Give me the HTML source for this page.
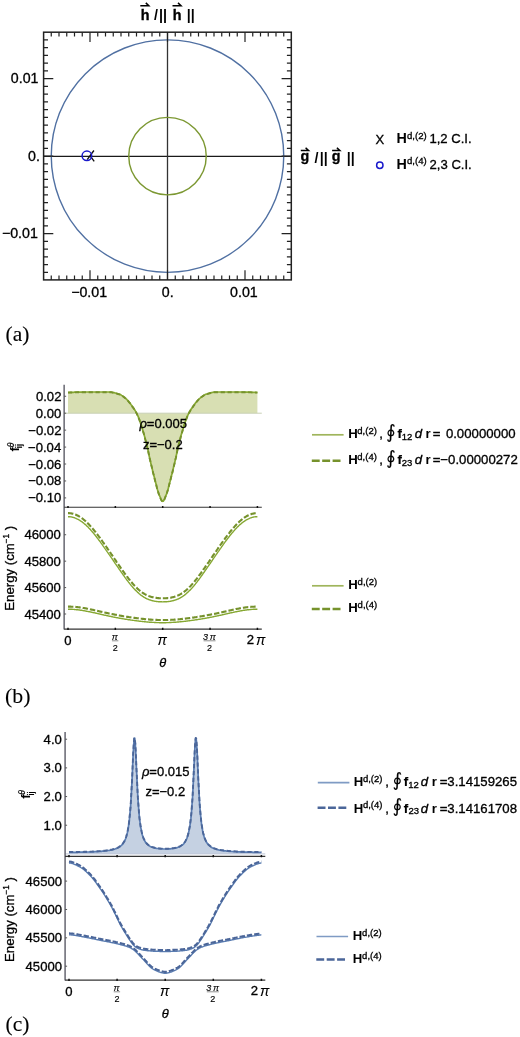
<!DOCTYPE html>
<html><head><meta charset="utf-8"><title>Figure</title>
<style>html,body{margin:0;padding:0;background:#fff;overflow:hidden;}svg{display:block;}</style>
</head><body>
<svg width="520" height="1037" viewBox="0 0 520 1037">
<line x1="43.60" y1="156.25" x2="291.30" y2="156.25" stroke="#1a1a1a" stroke-width="1.25"/>
<line x1="167.50" y1="32.20" x2="167.50" y2="279.90" stroke="#333" stroke-width="1.3"/>
<circle cx="167.50" cy="156.10" r="116.25" fill="none" stroke="#5070a2" stroke-width="1.4"/>
<circle cx="167.50" cy="156.10" r="38.75" fill="none" stroke="#7c9832" stroke-width="1.45"/>
<path d="M51.25 279.90v-4.40M51.25 32.20v4.40M43.60 272.35h4.40M291.30 272.35h-4.40M59.00 279.90v-4.40M59.00 32.20v4.40M43.60 264.60h4.40M291.30 264.60h-4.40M66.75 279.90v-4.40M66.75 32.20v4.40M43.60 256.85h4.40M291.30 256.85h-4.40M74.50 279.90v-4.40M74.50 32.20v4.40M43.60 249.10h4.40M291.30 249.10h-4.40M82.25 279.90v-4.40M82.25 32.20v4.40M43.60 241.35h4.40M291.30 241.35h-4.40M90.00 279.90v-9.70M90.00 32.20v9.70M43.60 233.60h9.70M291.30 233.60h-9.70M97.75 279.90v-4.40M97.75 32.20v4.40M43.60 225.85h4.40M291.30 225.85h-4.40M105.50 279.90v-4.40M105.50 32.20v4.40M43.60 218.10h4.40M291.30 218.10h-4.40M113.25 279.90v-4.40M113.25 32.20v4.40M43.60 210.35h4.40M291.30 210.35h-4.40M121.00 279.90v-4.40M121.00 32.20v4.40M43.60 202.60h4.40M291.30 202.60h-4.40M128.75 279.90v-4.40M128.75 32.20v4.40M43.60 194.85h4.40M291.30 194.85h-4.40M136.50 279.90v-4.40M136.50 32.20v4.40M43.60 187.10h4.40M291.30 187.10h-4.40M144.25 279.90v-4.40M144.25 32.20v4.40M43.60 179.35h4.40M291.30 179.35h-4.40M152.00 279.90v-4.40M152.00 32.20v4.40M43.60 171.60h4.40M291.30 171.60h-4.40M159.75 279.90v-4.40M159.75 32.20v4.40M43.60 163.85h4.40M291.30 163.85h-4.40M167.50 279.90v-9.70M167.50 32.20v9.70M43.60 156.10h9.70M291.30 156.10h-9.70M175.25 279.90v-4.40M175.25 32.20v4.40M43.60 148.35h4.40M291.30 148.35h-4.40M183.00 279.90v-4.40M183.00 32.20v4.40M43.60 140.60h4.40M291.30 140.60h-4.40M190.75 279.90v-4.40M190.75 32.20v4.40M43.60 132.85h4.40M291.30 132.85h-4.40M198.50 279.90v-4.40M198.50 32.20v4.40M43.60 125.10h4.40M291.30 125.10h-4.40M206.25 279.90v-4.40M206.25 32.20v4.40M43.60 117.35h4.40M291.30 117.35h-4.40M214.00 279.90v-4.40M214.00 32.20v4.40M43.60 109.60h4.40M291.30 109.60h-4.40M221.75 279.90v-4.40M221.75 32.20v4.40M43.60 101.85h4.40M291.30 101.85h-4.40M229.50 279.90v-4.40M229.50 32.20v4.40M43.60 94.10h4.40M291.30 94.10h-4.40M237.25 279.90v-4.40M237.25 32.20v4.40M43.60 86.35h4.40M291.30 86.35h-4.40M245.00 279.90v-9.70M245.00 32.20v9.70M43.60 78.60h9.70M291.30 78.60h-9.70M252.75 279.90v-4.40M252.75 32.20v4.40M43.60 70.85h4.40M291.30 70.85h-4.40M260.50 279.90v-4.40M260.50 32.20v4.40M43.60 63.10h4.40M291.30 63.10h-4.40M268.25 279.90v-4.40M268.25 32.20v4.40M43.60 55.35h4.40M291.30 55.35h-4.40M276.00 279.90v-4.40M276.00 32.20v4.40M43.60 47.60h4.40M291.30 47.60h-4.40M283.75 279.90v-4.40M283.75 32.20v4.40M43.60 39.85h4.40M291.30 39.85h-4.40" stroke="#222" stroke-width="1.2" fill="none"/>
<rect x="43.60" y="32.20" width="247.70" height="247.70" fill="none" stroke="#222" stroke-width="1.5"/>
<path d="M87.2 159.7L93.9 150.5M89.9 155.5L94.2 161.3" stroke="#111" stroke-width="1.35" fill="none"/>
<circle cx="86.9" cy="155.8" r="4.8" fill="none" stroke="#1a1acc" stroke-width="1.5"/>
<text x="10.80" y="83.10" font-size="14.20" font-family="'Liberation Sans', Arial, sans-serif" fill="#000" stroke="#000" stroke-width="0.32">0.01</text>
<text x="28.10" y="161.20" font-size="14.20" font-family="'Liberation Sans', Arial, sans-serif" fill="#000" stroke="#000" stroke-width="0.32">0.</text>
<text x="1.93" y="238.40" font-size="14.20" font-family="'Liberation Sans', Arial, sans-serif" fill="#000" stroke="#000" stroke-width="0.32">−0.01</text>
<text x="71.18" y="297.00" font-size="14.20" font-family="'Liberation Sans', Arial, sans-serif" fill="#000" stroke="#000" stroke-width="0.32">−0.01</text>
<text x="161.80" y="297.00" font-size="14.20" font-family="'Liberation Sans', Arial, sans-serif" fill="#000" stroke="#000" stroke-width="0.32">0.</text>
<text x="230.10" y="297.00" font-size="14.20" font-family="'Liberation Sans', Arial, sans-serif" fill="#000" stroke="#000" stroke-width="0.32">0.01</text>
<text x="140.83" y="20.00" font-size="14.30" font-family="'Liberation Sans', Arial, sans-serif" fill="#000" font-weight="bold" stroke="#000" stroke-width="0.35">h</text>
<text x="154.01" y="20.00" font-size="14.30" font-family="'Liberation Sans', Arial, sans-serif" fill="#000" font-weight="bold">/</text>
<text x="159.05" y="20.00" font-size="14.30" font-family="'Liberation Sans', Arial, sans-serif" fill="#000" font-weight="bold">|</text>
<text x="163.10" y="20.00" font-size="14.30" font-family="'Liberation Sans', Arial, sans-serif" fill="#000" font-weight="bold">|</text>
<text x="172.83" y="20.00" font-size="14.30" font-family="'Liberation Sans', Arial, sans-serif" fill="#000" font-weight="bold" stroke="#000" stroke-width="0.35">h</text>
<text x="186.75" y="20.00" font-size="14.30" font-family="'Liberation Sans', Arial, sans-serif" fill="#000" font-weight="bold">|</text>
<text x="190.75" y="20.00" font-size="14.30" font-family="'Liberation Sans', Arial, sans-serif" fill="#000" font-weight="bold">|</text>
<path d="M140.30 5.80H148.80 L145.80 2.90" stroke="#000" stroke-width="1.5" fill="none" stroke-linejoin="miter" stroke-linecap="butt"/>
<path d="M172.50 5.80H181.00 L178.00 2.90" stroke="#000" stroke-width="1.5" fill="none" stroke-linejoin="miter" stroke-linecap="butt"/>
<text x="300.47" y="161.00" font-size="14.30" font-family="'Liberation Sans', Arial, sans-serif" fill="#000" font-weight="bold" stroke="#000" stroke-width="0.30">g</text>
<text x="314.51" y="162.60" font-size="14.30" font-family="'Liberation Sans', Arial, sans-serif" fill="#000" font-weight="bold">/</text>
<text x="319.65" y="162.80" font-size="14.30" font-family="'Liberation Sans', Arial, sans-serif" fill="#000" font-weight="bold">|</text>
<text x="323.75" y="162.80" font-size="14.30" font-family="'Liberation Sans', Arial, sans-serif" fill="#000" font-weight="bold">|</text>
<text x="331.82" y="161.00" font-size="14.30" font-family="'Liberation Sans', Arial, sans-serif" fill="#000" font-weight="bold" stroke="#000" stroke-width="0.30">g</text>
<text x="346.75" y="162.80" font-size="14.30" font-family="'Liberation Sans', Arial, sans-serif" fill="#000" font-weight="bold">|</text>
<text x="350.75" y="162.80" font-size="14.30" font-family="'Liberation Sans', Arial, sans-serif" fill="#000" font-weight="bold">|</text>
<path d="M300.80 150.60H308.60 L305.60 147.70" stroke="#000" stroke-width="1.5" fill="none" stroke-linejoin="miter" stroke-linecap="butt"/>
<path d="M332.10 150.60H339.90 L336.90 147.70" stroke="#000" stroke-width="1.5" fill="none" stroke-linejoin="miter" stroke-linecap="butt"/>
<text x="375.51" y="143.60" font-size="13.00" font-family="'Liberation Sans', Arial, sans-serif" fill="#000" stroke="#000" stroke-width="0.32">X</text>
<circle cx="379.8" cy="165.3" r="3.2" fill="none" stroke="#1a1acc" stroke-width="1.5"/>
<text x="396.44" y="143.00" font-size="14.30" font-family="'Liberation Sans', Arial, sans-serif" fill="#000" font-weight="bold">H</text>
<text x="407.00" y="138.70" font-size="9.60" font-family="'Liberation Sans', Arial, sans-serif" fill="#000" stroke="#000" stroke-width="0.32">d,(2)</text>
<text x="429.38" y="143.00" font-size="13.10" font-family="'Liberation Sans', Arial, sans-serif" fill="#000" stroke="#000" stroke-width="0.32">1,2 C.I.</text>
<text x="396.44" y="168.50" font-size="14.30" font-family="'Liberation Sans', Arial, sans-serif" fill="#000" font-weight="bold">H</text>
<text x="407.00" y="164.20" font-size="9.60" font-family="'Liberation Sans', Arial, sans-serif" fill="#000" stroke="#000" stroke-width="0.32">d,(4)</text>
<text x="429.55" y="168.50" font-size="13.10" font-family="'Liberation Sans', Arial, sans-serif" fill="#000" stroke="#000" stroke-width="0.32">2,3 C.I.</text>
<text x="5.47" y="341.20" font-size="21.50" font-family="'Liberation Serif', 'Times New Roman', serif" fill="#000" stroke="#000" stroke-width="0.10">(a)</text>
<text x="5.09" y="703.30" font-size="21.80" font-family="'Liberation Serif', 'Times New Roman', serif" fill="#000" stroke="#000" stroke-width="0.10">(b)</text>
<text x="5.47" y="1031.00" font-size="21.50" font-family="'Liberation Serif', 'Times New Roman', serif" fill="#000" stroke="#000" stroke-width="0.10">(c)</text>
<path d="M68.0 392.4L68.5 392.4L69.1 392.4L69.6 392.4L70.1 392.4L70.6 392.4L71.2 392.3L71.7 392.3L72.2 392.3L72.7 392.3L73.3 392.3L73.8 392.3L74.3 392.2L74.8 392.2L75.4 392.2L75.9 392.2L76.4 392.2L76.9 392.2L77.5 392.2L78.0 392.1L78.5 392.1L79.0 392.1L79.6 392.1L80.1 392.1L80.6 392.1L81.2 392.1L81.7 392.1L82.2 392.1L82.7 392.1L83.3 392.0L83.8 392.0L84.3 392.0L84.8 392.0L85.4 392.0L85.9 392.0L86.4 392.0L86.9 392.0L87.5 392.0L88.0 392.0L88.5 392.0L89.0 392.0L89.6 392.0L90.1 392.0L90.6 392.0L91.1 392.0L91.7 392.0L92.2 392.0L92.7 392.0L93.3 392.0L93.8 392.0L94.3 392.0L94.8 392.0L95.4 392.0L95.9 392.0L96.4 392.0L96.9 392.0L97.5 392.0L98.0 392.0L98.5 392.0L99.0 392.0L99.6 392.0L100.1 392.0L100.6 392.0L101.1 392.0L101.7 392.0L102.2 392.0L102.7 392.0L103.2 392.0L103.8 392.0L104.3 392.0L104.8 392.0L105.4 392.0L105.9 392.0L106.4 392.0L106.9 392.0L107.5 392.0L108.0 392.0L108.5 392.0L109.0 392.0L109.6 392.0L110.1 392.1L110.6 392.1L111.1 392.2L111.7 392.2L112.2 392.3L112.7 392.4L113.2 392.5L113.8 392.6L114.3 392.7L114.8 392.9L115.3 393.0L115.9 393.1L116.4 393.3L116.9 393.5L117.5 393.6L118.0 393.8L118.5 394.0L119.0 394.1L119.6 394.3L120.1 394.5L120.6 394.8L121.1 395.0L121.7 395.4L122.2 395.7L122.7 396.0L123.2 396.4L123.8 396.8L124.3 397.2L124.8 397.7L125.3 398.1L125.9 398.5L126.4 399.0L126.9 399.6L127.5 400.1L128.0 400.7L128.5 401.3L129.0 402.0L129.6 402.6L130.1 403.3L130.6 404.0L131.1 404.7L131.7 405.5L132.2 406.2L132.7 406.9L133.2 407.7L133.8 408.4L134.3 409.2L134.8 410.0L135.3 410.9L135.9 411.8L136.4 412.8L136.9 413.8L137.4 414.9L138.0 416.1L138.5 417.4L139.0 418.8L139.6 420.2L140.1 421.8L140.6 423.4L141.1 425.0L141.7 426.7L142.2 428.3L142.7 430.0L143.2 431.7L143.8 433.5L144.3 435.4L144.8 437.3L145.3 439.3L145.9 441.3L146.4 443.4L146.9 445.5L147.4 447.8L148.0 450.2L148.5 452.6L149.0 455.0L149.5 457.5L150.1 459.9L150.6 462.2L151.1 464.4L151.7 466.6L152.2 468.8L152.7 471.0L153.2 473.1L153.8 475.2L154.3 477.3L154.8 479.3L155.3 481.3L155.9 483.4L156.4 485.5L156.9 487.5L157.4 489.5L158.0 491.3L158.5 492.9L159.0 494.4L159.5 495.7L160.1 497.0L160.6 498.3L161.1 499.5L161.6 500.4L162.2 501.1L162.7 501.3L163.2 501.1L163.8 500.4L164.3 499.5L164.8 498.3L165.3 497.0L165.9 495.7L166.4 494.4L166.9 492.9L167.4 491.3L168.0 489.5L168.5 487.5L169.0 485.5L169.5 483.4L170.1 481.3L170.6 479.3L171.1 477.3L171.6 475.2L172.2 473.1L172.7 471.0L173.2 468.8L173.7 466.6L174.3 464.4L174.8 462.2L175.3 459.9L175.9 457.5L176.4 455.0L176.9 452.6L177.4 450.2L178.0 447.8L178.5 445.5L179.0 443.4L179.5 441.3L180.1 439.3L180.6 437.3L181.1 435.4L181.6 433.5L182.2 431.7L182.7 430.0L183.2 428.3L183.7 426.7L184.3 425.0L184.8 423.4L185.3 421.8L185.8 420.2L186.4 418.8L186.9 417.4L187.4 416.1L188.0 414.9L188.5 413.8L189.0 412.8L189.5 411.8L190.1 410.9L190.6 410.0L191.1 409.2L191.6 408.4L192.2 407.7L192.7 406.9L193.2 406.2L193.7 405.5L194.3 404.7L194.8 404.0L195.3 403.3L195.8 402.6L196.4 402.0L196.9 401.3L197.4 400.7L197.9 400.1L198.5 399.6L199.0 399.0L199.5 398.5L200.1 398.1L200.6 397.7L201.1 397.2L201.6 396.8L202.2 396.4L202.7 396.0L203.2 395.7L203.7 395.4L204.3 395.0L204.8 394.8L205.3 394.5L205.8 394.3L206.4 394.1L206.9 394.0L207.4 393.8L207.9 393.6L208.5 393.5L209.0 393.3L209.5 393.1L210.1 393.0L210.6 392.9L211.1 392.7L211.6 392.6L212.2 392.5L212.7 392.4L213.2 392.3L213.7 392.2L214.3 392.2L214.8 392.1L215.3 392.1L215.8 392.0L216.4 392.0L216.9 392.0L217.4 392.0L217.9 392.0L218.5 392.0L219.0 392.0L219.5 392.0L220.0 392.0L220.6 392.0L221.1 392.0L221.6 392.0L222.2 392.0L222.7 392.0L223.2 392.0L223.7 392.0L224.3 392.0L224.8 392.0L225.3 392.0L225.8 392.0L226.4 392.0L226.9 392.0L227.4 392.0L227.9 392.0L228.5 392.0L229.0 392.0L229.5 392.0L230.0 392.0L230.6 392.0L231.1 392.0L231.6 392.0L232.1 392.0L232.7 392.0L233.2 392.0L233.7 392.0L234.3 392.0L234.8 392.0L235.3 392.0L235.8 392.0L236.4 392.0L236.9 392.0L237.4 392.0L237.9 392.0L238.5 392.0L239.0 392.0L239.5 392.0L240.0 392.0L240.6 392.0L241.1 392.0L241.6 392.0L242.1 392.0L242.7 392.1L243.2 392.1L243.7 392.1L244.2 392.1L244.8 392.1L245.3 392.1L245.8 392.1L246.4 392.1L246.9 392.1L247.4 392.1L247.9 392.2L248.5 392.2L249.0 392.2L249.5 392.2L250.0 392.2L250.6 392.2L251.1 392.2L251.6 392.3L252.1 392.3L252.7 392.3L253.2 392.3L253.7 392.3L254.2 392.3L254.8 392.4L255.3 392.4L255.8 392.4L256.3 392.4L256.9 392.4L257.4 392.4L257.4 413.2L68.0 413.2Z" fill="#d8dfb3" stroke="none"/>
<line x1="64.15" y1="413.20" x2="261.80" y2="413.20" stroke="#c9d0b6" stroke-width="1"/>
<path d="M68.0 392.4L68.5 392.4L69.1 392.4L69.6 392.4L70.1 392.4L70.6 392.4L71.2 392.3L71.7 392.3L72.2 392.3L72.7 392.3L73.3 392.3L73.8 392.3L74.3 392.2L74.8 392.2L75.4 392.2L75.9 392.2L76.4 392.2L76.9 392.2L77.5 392.2L78.0 392.1L78.5 392.1L79.0 392.1L79.6 392.1L80.1 392.1L80.6 392.1L81.2 392.1L81.7 392.1L82.2 392.1L82.7 392.1L83.3 392.0L83.8 392.0L84.3 392.0L84.8 392.0L85.4 392.0L85.9 392.0L86.4 392.0L86.9 392.0L87.5 392.0L88.0 392.0L88.5 392.0L89.0 392.0L89.6 392.0L90.1 392.0L90.6 392.0L91.1 392.0L91.7 392.0L92.2 392.0L92.7 392.0L93.3 392.0L93.8 392.0L94.3 392.0L94.8 392.0L95.4 392.0L95.9 392.0L96.4 392.0L96.9 392.0L97.5 392.0L98.0 392.0L98.5 392.0L99.0 392.0L99.6 392.0L100.1 392.0L100.6 392.0L101.1 392.0L101.7 392.0L102.2 392.0L102.7 392.0L103.2 392.0L103.8 392.0L104.3 392.0L104.8 392.0L105.4 392.0L105.9 392.0L106.4 392.0L106.9 392.0L107.5 392.0L108.0 392.0L108.5 392.0L109.0 392.0L109.6 392.0L110.1 392.1L110.6 392.1L111.1 392.2L111.7 392.2L112.2 392.3L112.7 392.4L113.2 392.5L113.8 392.6L114.3 392.7L114.8 392.9L115.3 393.0L115.9 393.1L116.4 393.3L116.9 393.5L117.5 393.6L118.0 393.8L118.5 394.0L119.0 394.1L119.6 394.3L120.1 394.5L120.6 394.8L121.1 395.0L121.7 395.4L122.2 395.7L122.7 396.0L123.2 396.4L123.8 396.8L124.3 397.2L124.8 397.7L125.3 398.1L125.9 398.5L126.4 399.0L126.9 399.6L127.5 400.1L128.0 400.7L128.5 401.3L129.0 402.0L129.6 402.6L130.1 403.3L130.6 404.0L131.1 404.7L131.7 405.5L132.2 406.2L132.7 406.9L133.2 407.7L133.8 408.4L134.3 409.2L134.8 410.0L135.3 410.9L135.9 411.8L136.4 412.8L136.9 413.8L137.4 414.9L138.0 416.1L138.5 417.4L139.0 418.8L139.6 420.2L140.1 421.8L140.6 423.4L141.1 425.0L141.7 426.7L142.2 428.3L142.7 430.0L143.2 431.7L143.8 433.5L144.3 435.4L144.8 437.3L145.3 439.3L145.9 441.3L146.4 443.4L146.9 445.5L147.4 447.8L148.0 450.2L148.5 452.6L149.0 455.0L149.5 457.5L150.1 459.9L150.6 462.2L151.1 464.4L151.7 466.6L152.2 468.8L152.7 471.0L153.2 473.1L153.8 475.2L154.3 477.3L154.8 479.3L155.3 481.3L155.9 483.4L156.4 485.5L156.9 487.5L157.4 489.5L158.0 491.3L158.5 492.9L159.0 494.4L159.5 495.7L160.1 497.0L160.6 498.3L161.1 499.5L161.6 500.4L162.2 501.1L162.7 501.3L163.2 501.1L163.8 500.4L164.3 499.5L164.8 498.3L165.3 497.0L165.9 495.7L166.4 494.4L166.9 492.9L167.4 491.3L168.0 489.5L168.5 487.5L169.0 485.5L169.5 483.4L170.1 481.3L170.6 479.3L171.1 477.3L171.6 475.2L172.2 473.1L172.7 471.0L173.2 468.8L173.7 466.6L174.3 464.4L174.8 462.2L175.3 459.9L175.9 457.5L176.4 455.0L176.9 452.6L177.4 450.2L178.0 447.8L178.5 445.5L179.0 443.4L179.5 441.3L180.1 439.3L180.6 437.3L181.1 435.4L181.6 433.5L182.2 431.7L182.7 430.0L183.2 428.3L183.7 426.7L184.3 425.0L184.8 423.4L185.3 421.8L185.8 420.2L186.4 418.8L186.9 417.4L187.4 416.1L188.0 414.9L188.5 413.8L189.0 412.8L189.5 411.8L190.1 410.9L190.6 410.0L191.1 409.2L191.6 408.4L192.2 407.7L192.7 406.9L193.2 406.2L193.7 405.5L194.3 404.7L194.8 404.0L195.3 403.3L195.8 402.6L196.4 402.0L196.9 401.3L197.4 400.7L197.9 400.1L198.5 399.6L199.0 399.0L199.5 398.5L200.1 398.1L200.6 397.7L201.1 397.2L201.6 396.8L202.2 396.4L202.7 396.0L203.2 395.7L203.7 395.4L204.3 395.0L204.8 394.8L205.3 394.5L205.8 394.3L206.4 394.1L206.9 394.0L207.4 393.8L207.9 393.6L208.5 393.5L209.0 393.3L209.5 393.1L210.1 393.0L210.6 392.9L211.1 392.7L211.6 392.6L212.2 392.5L212.7 392.4L213.2 392.3L213.7 392.2L214.3 392.2L214.8 392.1L215.3 392.1L215.8 392.0L216.4 392.0L216.9 392.0L217.4 392.0L217.9 392.0L218.5 392.0L219.0 392.0L219.5 392.0L220.0 392.0L220.6 392.0L221.1 392.0L221.6 392.0L222.2 392.0L222.7 392.0L223.2 392.0L223.7 392.0L224.3 392.0L224.8 392.0L225.3 392.0L225.8 392.0L226.4 392.0L226.9 392.0L227.4 392.0L227.9 392.0L228.5 392.0L229.0 392.0L229.5 392.0L230.0 392.0L230.6 392.0L231.1 392.0L231.6 392.0L232.1 392.0L232.7 392.0L233.2 392.0L233.7 392.0L234.3 392.0L234.8 392.0L235.3 392.0L235.8 392.0L236.4 392.0L236.9 392.0L237.4 392.0L237.9 392.0L238.5 392.0L239.0 392.0L239.5 392.0L240.0 392.0L240.6 392.0L241.1 392.0L241.6 392.0L242.1 392.0L242.7 392.1L243.2 392.1L243.7 392.1L244.2 392.1L244.8 392.1L245.3 392.1L245.8 392.1L246.4 392.1L246.9 392.1L247.4 392.1L247.9 392.2L248.5 392.2L249.0 392.2L249.5 392.2L250.0 392.2L250.6 392.2L251.1 392.2L251.6 392.3L252.1 392.3L252.7 392.3L253.2 392.3L253.7 392.3L254.2 392.3L254.8 392.4L255.3 392.4L255.8 392.4L256.3 392.4L256.9 392.4L257.4 392.4" fill="none" stroke="#86a832" stroke-width="1.7" stroke-linejoin="round"/>
<path d="M68.0 392.6L68.5 392.6L69.1 392.6L69.6 392.6L70.1 392.5L70.6 392.5L71.2 392.5L71.7 392.5L72.2 392.5L72.7 392.5L73.3 392.4L73.8 392.4L74.3 392.4L74.8 392.4L75.4 392.4L75.9 392.4L76.4 392.4L76.9 392.3L77.5 392.3L78.0 392.3L78.5 392.3L79.0 392.3L79.6 392.3L80.1 392.3L80.6 392.3L81.2 392.2L81.7 392.2L82.2 392.2L82.7 392.2L83.3 392.2L83.8 392.2L84.3 392.2L84.8 392.2L85.4 392.2L85.9 392.2L86.4 392.2L86.9 392.2L87.5 392.2L88.0 392.2L88.5 392.2L89.0 392.2L89.6 392.2L90.1 392.2L90.6 392.2L91.1 392.2L91.7 392.2L92.2 392.2L92.7 392.2L93.3 392.2L93.8 392.2L94.3 392.2L94.8 392.2L95.4 392.2L95.9 392.2L96.4 392.2L96.9 392.2L97.5 392.2L98.0 392.2L98.5 392.2L99.0 392.2L99.6 392.2L100.1 392.2L100.6 392.2L101.1 392.2L101.7 392.2L102.2 392.2L102.7 392.2L103.2 392.2L103.8 392.2L104.3 392.2L104.8 392.2L105.4 392.2L105.9 392.2L106.4 392.2L106.9 392.2L107.5 392.2L108.0 392.2L108.5 392.2L109.0 392.2L109.6 392.2L110.1 392.2L110.6 392.3L111.1 392.3L111.7 392.4L112.2 392.5L112.7 392.6L113.2 392.7L113.8 392.8L114.3 392.9L114.8 393.0L115.3 393.2L115.9 393.3L116.4 393.5L116.9 393.6L117.5 393.8L118.0 394.0L118.5 394.1L119.0 394.3L119.6 394.5L120.1 394.7L120.6 394.9L121.1 395.2L121.7 395.5L122.2 395.9L122.7 396.2L123.2 396.6L123.8 397.0L124.3 397.4L124.8 397.8L125.3 398.3L125.9 398.7L126.4 399.2L126.9 399.7L127.5 400.3L128.0 400.9L128.5 401.5L129.0 402.1L129.6 402.8L130.1 403.5L130.6 404.2L131.1 404.9L131.7 405.6L132.2 406.4L132.7 407.1L133.2 407.8L133.8 408.6L134.3 409.4L134.8 410.2L135.3 411.1L135.9 412.0L136.4 412.9L136.9 414.0L137.4 415.1L138.0 416.3L138.5 417.6L139.0 418.9L139.6 420.4L140.1 422.0L140.6 423.5L141.1 425.2L141.7 426.8L142.2 428.5L142.7 430.2L143.2 431.9L143.8 433.7L144.3 435.6L144.8 437.5L145.3 439.5L145.9 441.5L146.4 443.6L146.9 445.7L147.4 448.0L148.0 450.3L148.5 452.8L149.0 455.2L149.5 457.7L150.1 460.0L150.6 462.4L151.1 464.6L151.7 466.8L152.2 469.0L152.7 471.2L153.2 473.3L153.8 475.4L154.3 477.4L154.8 479.5L155.3 481.5L155.9 483.5L156.4 485.6L156.9 487.7L157.4 489.6L158.0 491.5L158.5 493.1L159.0 494.6L159.5 495.9L160.1 497.2L160.6 498.5L161.1 499.7L161.6 500.6L162.2 501.2L162.7 501.5L163.2 501.2L163.8 500.6L164.3 499.7L164.8 498.5L165.3 497.2L165.9 495.9L166.4 494.6L166.9 493.1L167.4 491.5L168.0 489.6L168.5 487.7L169.0 485.6L169.5 483.5L170.1 481.5L170.6 479.5L171.1 477.4L171.6 475.4L172.2 473.3L172.7 471.2L173.2 469.0L173.7 466.8L174.3 464.6L174.8 462.4L175.3 460.0L175.9 457.7L176.4 455.2L176.9 452.8L177.4 450.3L178.0 448.0L178.5 445.7L179.0 443.6L179.5 441.5L180.1 439.5L180.6 437.5L181.1 435.6L181.6 433.7L182.2 431.9L182.7 430.2L183.2 428.5L183.7 426.8L184.3 425.2L184.8 423.5L185.3 422.0L185.8 420.4L186.4 418.9L186.9 417.6L187.4 416.3L188.0 415.1L188.5 414.0L189.0 412.9L189.5 412.0L190.1 411.1L190.6 410.2L191.1 409.4L191.6 408.6L192.2 407.8L192.7 407.1L193.2 406.4L193.7 405.6L194.3 404.9L194.8 404.2L195.3 403.5L195.8 402.8L196.4 402.1L196.9 401.5L197.4 400.9L197.9 400.3L198.5 399.7L199.0 399.2L199.5 398.7L200.1 398.3L200.6 397.8L201.1 397.4L201.6 397.0L202.2 396.6L202.7 396.2L203.2 395.9L203.7 395.5L204.3 395.2L204.8 394.9L205.3 394.7L205.8 394.5L206.4 394.3L206.9 394.1L207.4 394.0L207.9 393.8L208.5 393.6L209.0 393.5L209.5 393.3L210.1 393.2L210.6 393.0L211.1 392.9L211.6 392.8L212.2 392.7L212.7 392.6L213.2 392.5L213.7 392.4L214.3 392.3L214.8 392.3L215.3 392.2L215.8 392.2L216.4 392.2L216.9 392.2L217.4 392.2L217.9 392.2L218.5 392.2L219.0 392.2L219.5 392.2L220.0 392.2L220.6 392.2L221.1 392.2L221.6 392.2L222.2 392.2L222.7 392.2L223.2 392.2L223.7 392.2L224.3 392.2L224.8 392.2L225.3 392.2L225.8 392.2L226.4 392.2L226.9 392.2L227.4 392.2L227.9 392.2L228.5 392.2L229.0 392.2L229.5 392.2L230.0 392.2L230.6 392.2L231.1 392.2L231.6 392.2L232.1 392.2L232.7 392.2L233.2 392.2L233.7 392.2L234.3 392.2L234.8 392.2L235.3 392.2L235.8 392.2L236.4 392.2L236.9 392.2L237.4 392.2L237.9 392.2L238.5 392.2L239.0 392.2L239.5 392.2L240.0 392.2L240.6 392.2L241.1 392.2L241.6 392.2L242.1 392.2L242.7 392.2L243.2 392.2L243.7 392.2L244.2 392.2L244.8 392.3L245.3 392.3L245.8 392.3L246.4 392.3L246.9 392.3L247.4 392.3L247.9 392.3L248.5 392.3L249.0 392.4L249.5 392.4L250.0 392.4L250.6 392.4L251.1 392.4L251.6 392.4L252.1 392.4L252.7 392.5L253.2 392.5L253.7 392.5L254.2 392.5L254.8 392.5L255.3 392.5L255.8 392.6L256.3 392.6L256.9 392.6L257.4 392.6" fill="none" stroke="#76922c" stroke-width="1.9" stroke-dasharray="4.2 2.7" stroke-linejoin="round"/>
<path d="M68.0 516.7L68.5 516.7L69.1 516.7L69.6 516.7L70.1 516.8L70.6 516.9L71.2 516.9L71.7 517.0L72.2 517.1L72.7 517.3L73.3 517.4L73.8 517.6L74.3 517.7L74.8 517.9L75.4 518.1L75.9 518.3L76.4 518.6L76.9 518.8L77.5 519.1L78.0 519.3L78.5 519.6L79.0 519.9L79.6 520.2L80.1 520.6L80.6 520.9L81.2 521.3L81.7 521.6L82.2 522.0L82.7 522.4L83.3 522.8L83.8 523.2L84.3 523.7L84.8 524.1L85.4 524.6L85.9 525.1L86.4 525.6L86.9 526.1L87.5 526.6L88.0 527.1L88.5 527.6L89.0 528.2L89.6 528.7L90.1 529.3L90.6 529.9L91.1 530.5L91.7 531.1L92.2 531.7L92.7 532.3L93.3 532.9L93.8 533.5L94.3 534.2L94.8 534.8L95.4 535.5L95.9 536.2L96.4 536.8L96.9 537.5L97.5 538.2L98.0 538.9L98.5 539.6L99.0 540.3L99.6 541.0L100.1 541.7L100.6 542.4L101.1 543.1L101.7 543.9L102.2 544.6L102.7 545.3L103.2 546.1L103.8 546.8L104.3 547.6L104.8 548.3L105.4 549.1L105.9 549.8L106.4 550.6L106.9 551.3L107.5 552.1L108.0 552.8L108.5 553.6L109.0 554.4L109.6 555.1L110.1 555.9L110.6 556.7L111.1 557.4L111.7 558.2L112.2 559.0L112.7 559.7L113.2 560.5L113.8 561.3L114.3 562.0L114.8 562.8L115.3 563.6L115.9 564.4L116.4 565.1L116.9 565.9L117.5 566.7L118.0 567.4L118.5 568.2L119.0 569.0L119.6 569.7L120.1 570.5L120.6 571.2L121.1 572.0L121.7 572.7L122.2 573.5L122.7 574.2L123.2 575.0L123.8 575.7L124.3 576.4L124.8 577.2L125.3 577.9L125.9 578.6L126.4 579.3L126.9 580.0L127.5 580.7L128.0 581.4L128.5 582.1L129.0 582.7L129.6 583.4L130.1 584.1L130.6 584.7L131.1 585.4L131.7 586.0L132.2 586.6L132.7 587.2L133.2 587.8L133.8 588.4L134.3 589.0L134.8 589.5L135.3 590.1L135.9 590.6L136.4 591.1L136.9 591.6L137.4 592.1L138.0 592.6L138.5 593.1L139.0 593.6L139.6 594.0L140.1 594.4L140.6 594.9L141.1 595.3L141.7 595.6L142.2 596.0L142.7 596.4L143.2 596.7L143.8 597.1L144.3 597.4L144.8 597.7L145.3 598.0L145.9 598.3L146.4 598.5L146.9 598.8L147.4 599.0L148.0 599.2L148.5 599.5L149.0 599.7L149.5 599.9L150.1 600.0L150.6 600.2L151.1 600.4L151.7 600.5L152.2 600.7L152.7 600.8L153.2 600.9L153.8 601.0L154.3 601.1L154.8 601.2L155.3 601.3L155.9 601.4L156.4 601.5L156.9 601.5L157.4 601.6L158.0 601.6L158.5 601.7L159.0 601.7L159.5 601.8L160.1 601.8L160.6 601.8L161.1 601.8L161.6 601.8L162.2 601.9L162.7 601.9L163.2 601.9L163.8 601.8L164.3 601.8L164.8 601.8L165.3 601.8L165.9 601.8L166.4 601.7L166.9 601.7L167.4 601.6L168.0 601.6L168.5 601.5L169.0 601.5L169.5 601.4L170.1 601.3L170.6 601.2L171.1 601.1L171.6 601.0L172.2 600.9L172.7 600.8L173.2 600.7L173.7 600.5L174.3 600.4L174.8 600.2L175.3 600.0L175.9 599.9L176.4 599.7L176.9 599.5L177.4 599.2L178.0 599.0L178.5 598.8L179.0 598.5L179.5 598.3L180.1 598.0L180.6 597.7L181.1 597.4L181.6 597.1L182.2 596.7L182.7 596.4L183.2 596.0L183.7 595.6L184.3 595.3L184.8 594.9L185.3 594.4L185.8 594.0L186.4 593.6L186.9 593.1L187.4 592.6L188.0 592.1L188.5 591.6L189.0 591.1L189.5 590.6L190.1 590.1L190.6 589.5L191.1 589.0L191.6 588.4L192.2 587.8L192.7 587.2L193.2 586.6L193.7 586.0L194.3 585.4L194.8 584.7L195.3 584.1L195.8 583.4L196.4 582.7L196.9 582.1L197.4 581.4L197.9 580.7L198.5 580.0L199.0 579.3L199.5 578.6L200.1 577.9L200.6 577.2L201.1 576.4L201.6 575.7L202.2 575.0L202.7 574.2L203.2 573.5L203.7 572.7L204.3 572.0L204.8 571.2L205.3 570.5L205.8 569.7L206.4 569.0L206.9 568.2L207.4 567.4L207.9 566.7L208.5 565.9L209.0 565.1L209.5 564.4L210.1 563.6L210.6 562.8L211.1 562.0L211.6 561.3L212.2 560.5L212.7 559.7L213.2 559.0L213.7 558.2L214.3 557.4L214.8 556.7L215.3 555.9L215.8 555.1L216.4 554.4L216.9 553.6L217.4 552.8L217.9 552.1L218.5 551.3L219.0 550.6L219.5 549.8L220.0 549.1L220.6 548.3L221.1 547.6L221.6 546.8L222.2 546.1L222.7 545.3L223.2 544.6L223.7 543.9L224.3 543.1L224.8 542.4L225.3 541.7L225.8 541.0L226.4 540.3L226.9 539.6L227.4 538.9L227.9 538.2L228.5 537.5L229.0 536.8L229.5 536.2L230.0 535.5L230.6 534.8L231.1 534.2L231.6 533.5L232.1 532.9L232.7 532.3L233.2 531.7L233.7 531.1L234.3 530.5L234.8 529.9L235.3 529.3L235.8 528.7L236.4 528.2L236.9 527.6L237.4 527.1L237.9 526.6L238.5 526.1L239.0 525.6L239.5 525.1L240.0 524.6L240.6 524.1L241.1 523.7L241.6 523.2L242.1 522.8L242.7 522.4L243.2 522.0L243.7 521.6L244.2 521.3L244.8 520.9L245.3 520.6L245.8 520.2L246.4 519.9L246.9 519.6L247.4 519.3L247.9 519.1L248.5 518.8L249.0 518.6L249.5 518.3L250.0 518.1L250.6 517.9L251.1 517.7L251.6 517.6L252.1 517.4L252.7 517.3L253.2 517.1L253.7 517.0L254.2 516.9L254.8 516.9L255.3 516.8L255.8 516.7L256.3 516.7L256.9 516.7L257.4 516.7" fill="none" stroke="#86a832" stroke-width="1.4" stroke-linejoin="round"/>
<path d="M68.0 513.1L68.5 513.1L69.1 513.1L69.6 513.2L70.1 513.2L70.6 513.3L71.2 513.4L71.7 513.5L72.2 513.6L72.7 513.7L73.3 513.8L73.8 514.0L74.3 514.2L74.8 514.3L75.4 514.5L75.9 514.8L76.4 515.0L76.9 515.2L77.5 515.5L78.0 515.8L78.5 516.0L79.0 516.3L79.6 516.7L80.1 517.0L80.6 517.3L81.2 517.7L81.7 518.1L82.2 518.4L82.7 518.8L83.3 519.3L83.8 519.7L84.3 520.1L84.8 520.6L85.4 521.0L85.9 521.5L86.4 522.0L86.9 522.5L87.5 523.0L88.0 523.5L88.5 524.1L89.0 524.6L89.6 525.2L90.1 525.7L90.6 526.3L91.1 526.9L91.7 527.5L92.2 528.1L92.7 528.7L93.3 529.3L93.8 530.0L94.3 530.6L94.8 531.3L95.4 531.9L95.9 532.6L96.4 533.3L96.9 533.9L97.5 534.6L98.0 535.3L98.5 536.0L99.0 536.7L99.6 537.4L100.1 538.1L100.6 538.9L101.1 539.6L101.7 540.3L102.2 541.0L102.7 541.8L103.2 542.5L103.8 543.2L104.3 544.0L104.8 544.7L105.4 545.5L105.9 546.2L106.4 547.0L106.9 547.8L107.5 548.5L108.0 549.3L108.5 550.0L109.0 550.8L109.6 551.6L110.1 552.3L110.6 553.1L111.1 553.9L111.7 554.6L112.2 555.4L112.7 556.2L113.2 556.9L113.8 557.7L114.3 558.5L114.8 559.2L115.3 560.0L115.9 560.8L116.4 561.6L116.9 562.3L117.5 563.1L118.0 563.9L118.5 564.6L119.0 565.4L119.6 566.1L120.1 566.9L120.6 567.7L121.1 568.4L121.7 569.2L122.2 569.9L122.7 570.7L123.2 571.4L123.8 572.1L124.3 572.9L124.8 573.6L125.3 574.3L125.9 575.0L126.4 575.7L126.9 576.4L127.5 577.1L128.0 577.8L128.5 578.5L129.0 579.2L129.6 579.8L130.1 580.5L130.6 581.1L131.1 581.8L131.7 582.4L132.2 583.0L132.7 583.6L133.2 584.2L133.8 584.8L134.3 585.4L134.8 586.0L135.3 586.5L135.9 587.0L136.4 587.6L136.9 588.1L137.4 588.6L138.0 589.1L138.5 589.5L139.0 590.0L139.6 590.4L140.1 590.9L140.6 591.3L141.1 591.7L141.7 592.1L142.2 592.5L142.7 592.8L143.2 593.2L143.8 593.5L144.3 593.8L144.8 594.1L145.3 594.4L145.9 594.7L146.4 595.0L146.9 595.2L147.4 595.4L148.0 595.7L148.5 595.9L149.0 596.1L149.5 596.3L150.1 596.5L150.6 596.6L151.1 596.8L151.7 597.0L152.2 597.1L152.7 597.2L153.2 597.3L153.8 597.5L154.3 597.6L154.8 597.7L155.3 597.7L155.9 597.8L156.4 597.9L156.9 598.0L157.4 598.0L158.0 598.1L158.5 598.1L159.0 598.2L159.5 598.2L160.1 598.2L160.6 598.3L161.1 598.3L161.6 598.3L162.2 598.3L162.7 598.3L163.2 598.3L163.8 598.3L164.3 598.3L164.8 598.3L165.3 598.2L165.9 598.2L166.4 598.2L166.9 598.1L167.4 598.1L168.0 598.0L168.5 598.0L169.0 597.9L169.5 597.8L170.1 597.7L170.6 597.7L171.1 597.6L171.6 597.5L172.2 597.3L172.7 597.2L173.2 597.1L173.7 597.0L174.3 596.8L174.8 596.6L175.3 596.5L175.9 596.3L176.4 596.1L176.9 595.9L177.4 595.7L178.0 595.4L178.5 595.2L179.0 595.0L179.5 594.7L180.1 594.4L180.6 594.1L181.1 593.8L181.6 593.5L182.2 593.2L182.7 592.8L183.2 592.5L183.7 592.1L184.3 591.7L184.8 591.3L185.3 590.9L185.8 590.4L186.4 590.0L186.9 589.5L187.4 589.1L188.0 588.6L188.5 588.1L189.0 587.6L189.5 587.0L190.1 586.5L190.6 586.0L191.1 585.4L191.6 584.8L192.2 584.2L192.7 583.6L193.2 583.0L193.7 582.4L194.3 581.8L194.8 581.1L195.3 580.5L195.8 579.8L196.4 579.2L196.9 578.5L197.4 577.8L197.9 577.1L198.5 576.4L199.0 575.7L199.5 575.0L200.1 574.3L200.6 573.6L201.1 572.9L201.6 572.1L202.2 571.4L202.7 570.7L203.2 569.9L203.7 569.2L204.3 568.4L204.8 567.7L205.3 566.9L205.8 566.1L206.4 565.4L206.9 564.6L207.4 563.9L207.9 563.1L208.5 562.3L209.0 561.6L209.5 560.8L210.1 560.0L210.6 559.2L211.1 558.5L211.6 557.7L212.2 556.9L212.7 556.2L213.2 555.4L213.7 554.6L214.3 553.9L214.8 553.1L215.3 552.3L215.8 551.6L216.4 550.8L216.9 550.0L217.4 549.3L217.9 548.5L218.5 547.8L219.0 547.0L219.5 546.2L220.0 545.5L220.6 544.7L221.1 544.0L221.6 543.2L222.2 542.5L222.7 541.8L223.2 541.0L223.7 540.3L224.3 539.6L224.8 538.9L225.3 538.1L225.8 537.4L226.4 536.7L226.9 536.0L227.4 535.3L227.9 534.6L228.5 533.9L229.0 533.3L229.5 532.6L230.0 531.9L230.6 531.3L231.1 530.6L231.6 530.0L232.1 529.3L232.7 528.7L233.2 528.1L233.7 527.5L234.3 526.9L234.8 526.3L235.3 525.7L235.8 525.2L236.4 524.6L236.9 524.1L237.4 523.5L237.9 523.0L238.5 522.5L239.0 522.0L239.5 521.5L240.0 521.0L240.6 520.6L241.1 520.1L241.6 519.7L242.1 519.3L242.7 518.8L243.2 518.4L243.7 518.1L244.2 517.7L244.8 517.3L245.3 517.0L245.8 516.7L246.4 516.3L246.9 516.0L247.4 515.8L247.9 515.5L248.5 515.2L249.0 515.0L249.5 514.8L250.0 514.5L250.6 514.3L251.1 514.2L251.6 514.0L252.1 513.8L252.7 513.7L253.2 513.6L253.7 513.5L254.2 513.4L254.8 513.3L255.3 513.2L255.8 513.2L256.3 513.1L256.9 513.1L257.4 513.1" fill="none" stroke="#76922c" stroke-width="2.1" stroke-dasharray="5.4 2.0" stroke-linejoin="round"/>
<path d="M68.0 609.2L68.5 609.2L69.1 609.2L69.6 609.3L70.1 609.3L70.6 609.3L71.2 609.3L71.7 609.3L72.2 609.3L72.7 609.4L73.3 609.4L73.8 609.4L74.3 609.5L74.8 609.5L75.4 609.6L75.9 609.6L76.4 609.7L76.9 609.7L77.5 609.8L78.0 609.8L78.5 609.9L79.0 610.0L79.6 610.0L80.1 610.1L80.6 610.2L81.2 610.3L81.7 610.3L82.2 610.4L82.7 610.5L83.3 610.6L83.8 610.7L84.3 610.8L84.8 610.9L85.4 611.0L85.9 611.1L86.4 611.2L86.9 611.3L87.5 611.4L88.0 611.5L88.5 611.6L89.0 611.7L89.6 611.8L90.1 611.9L90.6 612.0L91.1 612.1L91.7 612.2L92.2 612.4L92.7 612.5L93.3 612.6L93.8 612.7L94.3 612.8L94.8 612.9L95.4 613.0L95.9 613.2L96.4 613.3L96.9 613.4L97.5 613.5L98.0 613.6L98.5 613.8L99.0 613.9L99.6 614.0L100.1 614.1L100.6 614.2L101.1 614.4L101.7 614.5L102.2 614.6L102.7 614.7L103.2 614.8L103.8 615.0L104.3 615.1L104.8 615.2L105.4 615.3L105.9 615.4L106.4 615.5L106.9 615.7L107.5 615.8L108.0 615.9L108.5 616.0L109.0 616.1L109.6 616.2L110.1 616.3L110.6 616.4L111.1 616.5L111.7 616.7L112.2 616.8L112.7 616.9L113.2 617.0L113.8 617.1L114.3 617.2L114.8 617.3L115.3 617.4L115.9 617.5L116.4 617.6L116.9 617.7L117.5 617.8L118.0 617.9L118.5 618.0L119.0 618.1L119.6 618.2L120.1 618.3L120.6 618.4L121.1 618.5L121.7 618.5L122.2 618.6L122.7 618.7L123.2 618.8L123.8 618.9L124.3 619.0L124.8 619.1L125.3 619.2L125.9 619.2L126.4 619.3L126.9 619.4L127.5 619.5L128.0 619.6L128.5 619.7L129.0 619.7L129.6 619.8L130.1 619.9L130.6 620.0L131.1 620.1L131.7 620.1L132.2 620.2L132.7 620.3L133.2 620.4L133.8 620.4L134.3 620.5L134.8 620.6L135.3 620.6L135.9 620.7L136.4 620.8L136.9 620.9L137.4 620.9L138.0 621.0L138.5 621.0L139.0 621.1L139.6 621.2L140.1 621.2L140.6 621.3L141.1 621.4L141.7 621.4L142.2 621.5L142.7 621.5L143.2 621.6L143.8 621.6L144.3 621.7L144.8 621.8L145.3 621.8L145.9 621.9L146.4 621.9L146.9 622.0L147.4 622.0L148.0 622.0L148.5 622.1L149.0 622.1L149.5 622.2L150.1 622.2L150.6 622.2L151.1 622.3L151.7 622.3L152.2 622.4L152.7 622.4L153.2 622.4L153.8 622.4L154.3 622.5L154.8 622.5L155.3 622.5L155.9 622.5L156.4 622.6L156.9 622.6L157.4 622.6L158.0 622.6L158.5 622.6L159.0 622.6L159.5 622.7L160.1 622.7L160.6 622.7L161.1 622.7L161.6 622.7L162.2 622.7L162.7 622.7L163.2 622.7L163.8 622.7L164.3 622.7L164.8 622.7L165.3 622.7L165.9 622.7L166.4 622.6L166.9 622.6L167.4 622.6L168.0 622.6L168.5 622.6L169.0 622.6L169.5 622.5L170.1 622.5L170.6 622.5L171.1 622.5L171.6 622.4L172.2 622.4L172.7 622.4L173.2 622.4L173.7 622.3L174.3 622.3L174.8 622.2L175.3 622.2L175.9 622.2L176.4 622.1L176.9 622.1L177.4 622.0L178.0 622.0L178.5 622.0L179.0 621.9L179.5 621.9L180.1 621.8L180.6 621.8L181.1 621.7L181.6 621.6L182.2 621.6L182.7 621.5L183.2 621.5L183.7 621.4L184.3 621.4L184.8 621.3L185.3 621.2L185.8 621.2L186.4 621.1L186.9 621.0L187.4 621.0L188.0 620.9L188.5 620.9L189.0 620.8L189.5 620.7L190.1 620.6L190.6 620.6L191.1 620.5L191.6 620.4L192.2 620.4L192.7 620.3L193.2 620.2L193.7 620.1L194.3 620.1L194.8 620.0L195.3 619.9L195.8 619.8L196.4 619.7L196.9 619.7L197.4 619.6L197.9 619.5L198.5 619.4L199.0 619.3L199.5 619.2L200.1 619.2L200.6 619.1L201.1 619.0L201.6 618.9L202.2 618.8L202.7 618.7L203.2 618.6L203.7 618.5L204.3 618.5L204.8 618.4L205.3 618.3L205.8 618.2L206.4 618.1L206.9 618.0L207.4 617.9L207.9 617.8L208.5 617.7L209.0 617.6L209.5 617.5L210.1 617.4L210.6 617.3L211.1 617.2L211.6 617.1L212.2 617.0L212.7 616.9L213.2 616.8L213.7 616.7L214.3 616.5L214.8 616.4L215.3 616.3L215.8 616.2L216.4 616.1L216.9 616.0L217.4 615.9L217.9 615.8L218.5 615.7L219.0 615.5L219.5 615.4L220.0 615.3L220.6 615.2L221.1 615.1L221.6 615.0L222.2 614.8L222.7 614.7L223.2 614.6L223.7 614.5L224.3 614.4L224.8 614.2L225.3 614.1L225.8 614.0L226.4 613.9L226.9 613.8L227.4 613.6L227.9 613.5L228.5 613.4L229.0 613.3L229.5 613.2L230.0 613.0L230.6 612.9L231.1 612.8L231.6 612.7L232.1 612.6L232.7 612.5L233.2 612.4L233.7 612.2L234.3 612.1L234.8 612.0L235.3 611.9L235.8 611.8L236.4 611.7L236.9 611.6L237.4 611.5L237.9 611.4L238.5 611.3L239.0 611.2L239.5 611.1L240.0 611.0L240.6 610.9L241.1 610.8L241.6 610.7L242.1 610.6L242.7 610.5L243.2 610.4L243.7 610.3L244.2 610.3L244.8 610.2L245.3 610.1L245.8 610.0L246.4 610.0L246.9 609.9L247.4 609.8L247.9 609.8L248.5 609.7L249.0 609.7L249.5 609.6L250.0 609.6L250.6 609.5L251.1 609.5L251.6 609.4L252.1 609.4L252.7 609.4L253.2 609.3L253.7 609.3L254.2 609.3L254.8 609.3L255.3 609.3L255.8 609.3L256.3 609.2L256.9 609.2L257.4 609.2" fill="none" stroke="#86a832" stroke-width="1.4" stroke-linejoin="round"/>
<path d="M68.0 606.6L68.5 606.6L69.1 606.6L69.6 606.6L70.1 606.6L70.6 606.6L71.2 606.7L71.7 606.7L72.2 606.7L72.7 606.7L73.3 606.8L73.8 606.8L74.3 606.8L74.8 606.9L75.4 606.9L75.9 607.0L76.4 607.0L76.9 607.1L77.5 607.1L78.0 607.2L78.5 607.3L79.0 607.3L79.6 607.4L80.1 607.5L80.6 607.5L81.2 607.6L81.7 607.7L82.2 607.8L82.7 607.9L83.3 608.0L83.8 608.0L84.3 608.1L84.8 608.2L85.4 608.3L85.9 608.4L86.4 608.5L86.9 608.6L87.5 608.7L88.0 608.8L88.5 608.9L89.0 609.0L89.6 609.1L90.1 609.3L90.6 609.4L91.1 609.5L91.7 609.6L92.2 609.7L92.7 609.8L93.3 609.9L93.8 610.1L94.3 610.2L94.8 610.3L95.4 610.4L95.9 610.5L96.4 610.6L96.9 610.8L97.5 610.9L98.0 611.0L98.5 611.1L99.0 611.2L99.6 611.4L100.1 611.5L100.6 611.6L101.1 611.7L101.7 611.8L102.2 612.0L102.7 612.1L103.2 612.2L103.8 612.3L104.3 612.4L104.8 612.5L105.4 612.7L105.9 612.8L106.4 612.9L106.9 613.0L107.5 613.1L108.0 613.2L108.5 613.4L109.0 613.5L109.6 613.6L110.1 613.7L110.6 613.8L111.1 613.9L111.7 614.0L112.2 614.1L112.7 614.2L113.2 614.3L113.8 614.4L114.3 614.5L114.8 614.6L115.3 614.7L115.9 614.8L116.4 614.9L116.9 615.0L117.5 615.1L118.0 615.2L118.5 615.3L119.0 615.4L119.6 615.5L120.1 615.6L120.6 615.7L121.1 615.8L121.7 615.9L122.2 616.0L122.7 616.1L123.2 616.2L123.8 616.3L124.3 616.3L124.8 616.4L125.3 616.5L125.9 616.6L126.4 616.7L126.9 616.8L127.5 616.9L128.0 616.9L128.5 617.0L129.0 617.1L129.6 617.2L130.1 617.3L130.6 617.3L131.1 617.4L131.7 617.5L132.2 617.6L132.7 617.6L133.2 617.7L133.8 617.8L134.3 617.9L134.8 617.9L135.3 618.0L135.9 618.1L136.4 618.1L136.9 618.2L137.4 618.3L138.0 618.3L138.5 618.4L139.0 618.5L139.6 618.5L140.1 618.6L140.6 618.7L141.1 618.7L141.7 618.8L142.2 618.8L142.7 618.9L143.2 618.9L143.8 619.0L144.3 619.1L144.8 619.1L145.3 619.2L145.9 619.2L146.4 619.3L146.9 619.3L147.4 619.4L148.0 619.4L148.5 619.4L149.0 619.5L149.5 619.5L150.1 619.6L150.6 619.6L151.1 619.6L151.7 619.7L152.2 619.7L152.7 619.7L153.2 619.8L153.8 619.8L154.3 619.8L154.8 619.9L155.3 619.9L155.9 619.9L156.4 619.9L156.9 619.9L157.4 620.0L158.0 620.0L158.5 620.0L159.0 620.0L159.5 620.0L160.1 620.0L160.6 620.0L161.1 620.0L161.6 620.0L162.2 620.0L162.7 620.0L163.2 620.0L163.8 620.0L164.3 620.0L164.8 620.0L165.3 620.0L165.9 620.0L166.4 620.0L166.9 620.0L167.4 620.0L168.0 620.0L168.5 619.9L169.0 619.9L169.5 619.9L170.1 619.9L170.6 619.9L171.1 619.8L171.6 619.8L172.2 619.8L172.7 619.7L173.2 619.7L173.7 619.7L174.3 619.6L174.8 619.6L175.3 619.6L175.9 619.5L176.4 619.5L176.9 619.4L177.4 619.4L178.0 619.4L178.5 619.3L179.0 619.3L179.5 619.2L180.1 619.2L180.6 619.1L181.1 619.1L181.6 619.0L182.2 618.9L182.7 618.9L183.2 618.8L183.7 618.8L184.3 618.7L184.8 618.7L185.3 618.6L185.8 618.5L186.4 618.5L186.9 618.4L187.4 618.3L188.0 618.3L188.5 618.2L189.0 618.1L189.5 618.1L190.1 618.0L190.6 617.9L191.1 617.9L191.6 617.8L192.2 617.7L192.7 617.6L193.2 617.6L193.7 617.5L194.3 617.4L194.8 617.3L195.3 617.3L195.8 617.2L196.4 617.1L196.9 617.0L197.4 616.9L197.9 616.9L198.5 616.8L199.0 616.7L199.5 616.6L200.1 616.5L200.6 616.4L201.1 616.3L201.6 616.3L202.2 616.2L202.7 616.1L203.2 616.0L203.7 615.9L204.3 615.8L204.8 615.7L205.3 615.6L205.8 615.5L206.4 615.4L206.9 615.3L207.4 615.2L207.9 615.1L208.5 615.0L209.0 614.9L209.5 614.8L210.1 614.7L210.6 614.6L211.1 614.5L211.6 614.4L212.2 614.3L212.7 614.2L213.2 614.1L213.7 614.0L214.3 613.9L214.8 613.8L215.3 613.7L215.8 613.6L216.4 613.5L216.9 613.4L217.4 613.2L217.9 613.1L218.5 613.0L219.0 612.9L219.5 612.8L220.0 612.7L220.6 612.5L221.1 612.4L221.6 612.3L222.2 612.2L222.7 612.1L223.2 612.0L223.7 611.8L224.3 611.7L224.8 611.6L225.3 611.5L225.8 611.4L226.4 611.2L226.9 611.1L227.4 611.0L227.9 610.9L228.5 610.8L229.0 610.6L229.5 610.5L230.0 610.4L230.6 610.3L231.1 610.2L231.6 610.1L232.1 609.9L232.7 609.8L233.2 609.7L233.7 609.6L234.3 609.5L234.8 609.4L235.3 609.3L235.8 609.1L236.4 609.0L236.9 608.9L237.4 608.8L237.9 608.7L238.5 608.6L239.0 608.5L239.5 608.4L240.0 608.3L240.6 608.2L241.1 608.1L241.6 608.0L242.1 608.0L242.7 607.9L243.2 607.8L243.7 607.7L244.2 607.6L244.8 607.5L245.3 607.5L245.8 607.4L246.4 607.3L246.9 607.3L247.4 607.2L247.9 607.1L248.5 607.1L249.0 607.0L249.5 607.0L250.0 606.9L250.6 606.9L251.1 606.8L251.6 606.8L252.1 606.8L252.7 606.7L253.2 606.7L253.7 606.7L254.2 606.7L254.8 606.6L255.3 606.6L255.8 606.6L256.3 606.6L256.9 606.6L257.4 606.6" fill="none" stroke="#76922c" stroke-width="2.1" stroke-dasharray="5.4 2.0" stroke-linejoin="round"/>
<line x1="64.15" y1="384.80" x2="64.15" y2="629.60" stroke="#70707a" stroke-width="1.6"/>
<line x1="64.15" y1="507.30" x2="261.80" y2="507.30" stroke="#333" stroke-width="1.1"/>
<path d="M68.00 505.90v2.20M115.35 505.90v2.20M162.70 505.90v2.20M210.05 505.90v2.20M257.40 505.90v2.20" stroke="#111" stroke-width="1.5"/>
<line x1="64.15" y1="629.10" x2="261.80" y2="629.10" stroke="#333" stroke-width="1.1"/>
<path d="M68.00 627.70v2.20M115.35 627.70v2.20M162.70 627.70v2.20M210.05 627.70v2.20M257.40 627.70v2.20" stroke="#111" stroke-width="1.5"/>
<path d="M64.15 396.26h2M64.15 413.20h2M64.15 430.14h2M64.15 447.08h2M64.15 464.02h2M64.15 480.96h2M64.15 497.90h2M64.15 534.74h2M64.15 561.16h2M64.15 587.58h2M64.15 614.00h2" stroke="#555" stroke-width="1"/>
<text x="35.96" y="400.76" font-size="13.10" font-family="'Liberation Sans', Arial, sans-serif" fill="#000" stroke="#000" stroke-width="0.32">0.02</text>
<text x="35.82" y="417.70" font-size="13.10" font-family="'Liberation Sans', Arial, sans-serif" fill="#000" stroke="#000" stroke-width="0.32">0.00</text>
<text x="28.31" y="434.64" font-size="13.10" font-family="'Liberation Sans', Arial, sans-serif" fill="#000" stroke="#000" stroke-width="0.32">−0.02</text>
<text x="28.04" y="451.58" font-size="13.10" font-family="'Liberation Sans', Arial, sans-serif" fill="#000" stroke="#000" stroke-width="0.32">−0.04</text>
<text x="28.23" y="468.52" font-size="13.10" font-family="'Liberation Sans', Arial, sans-serif" fill="#000" stroke="#000" stroke-width="0.32">−0.06</text>
<text x="28.22" y="485.46" font-size="13.10" font-family="'Liberation Sans', Arial, sans-serif" fill="#000" stroke="#000" stroke-width="0.32">−0.08</text>
<text x="28.17" y="502.40" font-size="13.10" font-family="'Liberation Sans', Arial, sans-serif" fill="#000" stroke="#000" stroke-width="0.32">−0.10</text>
<text x="24.48" y="539.24" font-size="13.10" font-family="'Liberation Sans', Arial, sans-serif" fill="#000" stroke="#000" stroke-width="0.32">46000</text>
<text x="24.48" y="565.66" font-size="13.10" font-family="'Liberation Sans', Arial, sans-serif" fill="#000" stroke="#000" stroke-width="0.32">45800</text>
<text x="24.48" y="592.08" font-size="13.10" font-family="'Liberation Sans', Arial, sans-serif" fill="#000" stroke="#000" stroke-width="0.32">45600</text>
<text x="24.48" y="618.50" font-size="13.10" font-family="'Liberation Sans', Arial, sans-serif" fill="#000" stroke="#000" stroke-width="0.32">45400</text>
<text x="64.36" y="644.70" font-size="13.10" font-family="'Liberation Sans', Arial, sans-serif" fill="#000" stroke="#000" stroke-width="0.32">0</text>
<text x="157.59" y="645.00" font-size="14.00" font-family="'Liberation Sans', Arial, sans-serif" fill="#000" font-style="italic" stroke="#000" stroke-width="0.10">π</text>
<text x="246.76" y="644.30" font-size="13.10" font-family="'Liberation Sans', Arial, sans-serif" fill="#000" stroke="#000" stroke-width="0.32">2</text>
<text x="256.09" y="645.00" font-size="14.00" font-family="'Liberation Sans', Arial, sans-serif" fill="#000" font-style="italic" stroke="#000" stroke-width="0.10">π</text>
<text x="111.87" y="639.80" font-size="9.00" font-family="'Liberation Sans', Arial, sans-serif" fill="#000" font-style="italic" stroke="#000" stroke-width="0.15">π</text>
<line x1="111.95" y1="640.80" x2="118.35" y2="640.80" stroke="#444" stroke-width="0.6"/>
<text x="112.65" y="650.70" font-size="9.00" font-family="'Liberation Sans', Arial, sans-serif" fill="#000" stroke="#000" stroke-width="0.15">2</text>
<text x="202.96" y="639.80" font-size="9.00" font-family="'Liberation Sans', Arial, sans-serif" fill="#000" font-style="italic" stroke="#000" stroke-width="0.15">3 π</text>
<line x1="203.55" y1="640.80" x2="215.55" y2="640.80" stroke="#444" stroke-width="0.6"/>
<text x="207.05" y="650.70" font-size="9.00" font-family="'Liberation Sans', Arial, sans-serif" fill="#000" stroke="#000" stroke-width="0.15">2</text>
<text x="159.27" y="667.10" font-size="12.80" font-family="'Liberation Sans', Arial, sans-serif" fill="#000" font-style="italic" stroke="#000" stroke-width="0.32">θ</text>
<text x="139.39" y="428.10" font-size="13.00" font-family="'Liberation Sans', Arial, sans-serif" fill="#000" stroke="#000" stroke-width="0.32"><tspan font-style="italic">ρ</tspan>=0.005</text>
<text x="142.89" y="448.70" font-size="13.00" font-family="'Liberation Sans', Arial, sans-serif" fill="#000" stroke="#000" stroke-width="0.32">z=−0.2</text>
<text transform="translate(18.70 451.40) rotate(-90)" font-family="'Liberation Sans', Arial, sans-serif" font-size="12.5" font-weight="bold">f<tspan font-size="8.6" dy="-5.2" font-style="italic" font-weight="normal" stroke="#000" stroke-width="0.2">θ</tspan><tspan font-size="9.3" dx="-5.6" dy="8.6" font-weight="normal" stroke="#000" stroke-width="0.15">ij</tspan></text>
<text transform="translate(13.90 610.70) rotate(-90)" font-family="'Liberation Sans', Arial, sans-serif" font-size="13.2" stroke="#000" stroke-width="0.3">Energy (cm<tspan font-size="8.2" dy="-4.8">−1</tspan><tspan dy="4.8"> )</tspan></text>
<line x1="312.00" y1="434.80" x2="343.60" y2="434.80" stroke="#9fb55c" stroke-width="1.7"/>
<line x1="311.80" y1="460.80" x2="340.50" y2="460.80" stroke="#76922c" stroke-width="2.5" stroke-dasharray="7.9 2.5"/>
<text x="348.14" y="438.20" font-size="13.20" font-family="'Liberation Sans', Arial, sans-serif" fill="#000" font-weight="bold">H</text>
<text x="357.30" y="433.80" font-size="9.50" font-family="'Liberation Sans', Arial, sans-serif" fill="#000" stroke="#000" stroke-width="0.32">d,(2)</text>
<text x="379.17" y="438.20" font-size="13.20" font-family="'Liberation Sans', Arial, sans-serif" fill="#000" stroke="#000" stroke-width="0.32">,</text>
<text x="386.18" y="437.80" font-size="18.50" font-family="'DejaVu Sans', sans-serif" fill="#000" stroke="#000" stroke-width="0.10">∮</text>
<text x="397.48" y="438.20" font-size="13.20" font-family="'Liberation Sans', Arial, sans-serif" fill="#000" font-weight="bold" stroke="#000" stroke-width="0.20">f</text>
<text x="401.69" y="439.60" font-size="9.50" font-family="'Liberation Sans', Arial, sans-serif" fill="#000" stroke="#000" stroke-width="0.32">12</text>
<text x="414.73" y="438.20" font-size="13.20" font-family="'Liberation Sans', Arial, sans-serif" fill="#000" font-style="italic" stroke="#000" stroke-width="0.32">d</text>
<text x="425.50" y="438.20" font-size="13.20" font-family="'Liberation Sans', Arial, sans-serif" fill="#000" font-weight="bold">r</text>
<text x="432.65" y="438.20" font-size="13.20" font-family="'Liberation Sans', Arial, sans-serif" fill="#000" stroke="#000" stroke-width="0.32">=</text>
<text x="445.88" y="438.20" font-size="13.20" font-family="'Liberation Sans', Arial, sans-serif" fill="#000" stroke="#000" stroke-width="0.32">0.00000000</text>
<text x="348.14" y="464.40" font-size="13.20" font-family="'Liberation Sans', Arial, sans-serif" fill="#000" font-weight="bold">H</text>
<text x="357.30" y="460.00" font-size="9.50" font-family="'Liberation Sans', Arial, sans-serif" fill="#000" stroke="#000" stroke-width="0.32">d,(4)</text>
<text x="379.17" y="464.40" font-size="13.20" font-family="'Liberation Sans', Arial, sans-serif" fill="#000" stroke="#000" stroke-width="0.32">,</text>
<text x="386.18" y="464.00" font-size="18.50" font-family="'DejaVu Sans', sans-serif" fill="#000" stroke="#000" stroke-width="0.10">∮</text>
<text x="397.48" y="464.40" font-size="13.20" font-family="'Liberation Sans', Arial, sans-serif" fill="#000" font-weight="bold" stroke="#000" stroke-width="0.20">f</text>
<text x="401.79" y="465.80" font-size="9.50" font-family="'Liberation Sans', Arial, sans-serif" fill="#000" stroke="#000" stroke-width="0.32">23</text>
<text x="414.73" y="464.40" font-size="13.20" font-family="'Liberation Sans', Arial, sans-serif" fill="#000" font-style="italic" stroke="#000" stroke-width="0.32">d</text>
<text x="425.50" y="464.40" font-size="13.20" font-family="'Liberation Sans', Arial, sans-serif" fill="#000" font-weight="bold">r</text>
<text x="432.65" y="464.40" font-size="13.20" font-family="'Liberation Sans', Arial, sans-serif" fill="#000" stroke="#000" stroke-width="0.32">=</text>
<text x="440.35" y="464.40" font-size="13.20" font-family="'Liberation Sans', Arial, sans-serif" fill="#000" stroke="#000" stroke-width="0.32">−0.00000272</text>
<line x1="312.00" y1="585.80" x2="343.60" y2="585.80" stroke="#9fb55c" stroke-width="1.7"/>
<line x1="311.80" y1="608.90" x2="340.50" y2="608.90" stroke="#76922c" stroke-width="2.5" stroke-dasharray="7.9 2.5"/>
<text x="348.34" y="589.30" font-size="13.20" font-family="'Liberation Sans', Arial, sans-serif" fill="#000" font-weight="bold">H</text>
<text x="357.60" y="585.10" font-size="9.50" font-family="'Liberation Sans', Arial, sans-serif" fill="#000" stroke="#000" stroke-width="0.32">d,(2)</text>
<text x="348.34" y="612.40" font-size="13.20" font-family="'Liberation Sans', Arial, sans-serif" fill="#000" font-weight="bold">H</text>
<text x="357.60" y="608.20" font-size="9.50" font-family="'Liberation Sans', Arial, sans-serif" fill="#000" stroke="#000" stroke-width="0.32">d,(4)</text>
<path d="M69.0 852.3L69.5 852.3L70.1 852.3L70.6 852.3L71.1 852.3L71.7 852.3L72.2 852.3L72.7 852.3L73.3 852.3L73.8 852.3L74.3 852.3L74.9 852.3L75.4 852.3L75.9 852.3L76.5 852.3L77.0 852.3L77.6 852.3L78.1 852.2L78.6 852.2L79.2 852.2L79.7 852.2L80.2 852.2L80.8 852.2L81.3 852.2L81.8 852.2L82.4 852.2L82.9 852.2L83.4 852.1L84.0 852.1L84.5 852.1L85.0 852.1L85.6 852.1L86.1 852.1L86.6 852.1L87.2 852.0L87.7 852.0L88.2 852.0L88.8 852.0L89.3 852.0L89.8 851.9L90.4 851.9L90.9 851.9L91.4 851.9L92.0 851.9L92.5 851.8L93.0 851.8L93.6 851.8L94.1 851.8L94.7 851.7L95.2 851.7L95.7 851.7L96.3 851.6L96.8 851.6L97.3 851.6L97.9 851.5L98.4 851.5L98.9 851.5L99.5 851.4L100.0 851.4L100.5 851.3L101.1 851.3L101.6 851.3L102.1 851.2L102.7 851.2L103.2 851.1L103.7 851.1L104.3 851.0L104.8 850.9L105.3 850.9L105.9 850.8L106.4 850.8L106.9 850.7L107.5 850.6L108.0 850.5L108.5 850.5L109.1 850.4L109.6 850.3L110.2 850.2L110.7 850.1L111.2 850.0L111.8 849.9L112.3 849.8L112.8 849.6L113.4 849.5L113.9 849.3L114.4 849.2L115.0 849.0L115.5 848.8L116.0 848.6L116.6 848.4L117.1 848.2L117.6 848.0L118.2 847.7L118.7 847.4L119.2 847.1L119.8 846.7L120.3 846.3L120.8 845.9L121.4 845.4L121.9 844.9L122.4 844.3L123.0 843.6L123.5 842.8L124.0 842.0L124.6 841.0L125.1 839.8L125.7 838.5L126.2 836.9L126.7 835.1L127.3 833.0L127.8 830.5L128.3 827.5L128.9 823.8L129.4 819.4L129.9 814.1L130.5 807.6L131.0 799.8L131.5 790.4L132.1 779.5L132.6 767.5L133.1 755.4L133.7 745.0L134.2 738.7L134.7 738.2L135.3 743.6L135.8 753.5L136.3 765.4L136.9 777.5L137.4 788.6L137.9 798.2L138.5 806.2L139.0 812.9L139.5 818.4L140.1 822.9L140.6 826.6L141.2 829.6L141.7 832.2L142.2 834.4L142.8 836.2L143.3 837.7L143.8 839.1L144.4 840.2L144.9 841.2L145.4 842.1L146.0 842.8L146.5 843.5L147.0 844.1L147.6 844.6L148.1 845.0L148.6 845.4L149.2 845.8L149.7 846.1L150.2 846.4L150.8 846.7L151.3 846.9L151.8 847.1L152.4 847.3L152.9 847.5L153.4 847.7L154.0 847.8L154.5 848.0L155.0 848.1L155.6 848.2L156.1 848.3L156.6 848.4L157.2 848.5L157.7 848.5L158.3 848.6L158.8 848.7L159.3 848.7L159.9 848.8L160.4 848.8L160.9 848.9L161.5 848.9L162.0 848.9L162.5 848.9L163.1 849.0L163.6 849.0L164.1 849.0L164.7 849.0L165.2 849.0L165.7 849.0L166.3 849.0L166.8 849.0L167.3 849.0L167.9 848.9L168.4 848.9L168.9 848.9L169.5 848.9L170.0 848.8L170.5 848.8L171.1 848.7L171.6 848.7L172.1 848.6L172.7 848.5L173.2 848.5L173.8 848.4L174.3 848.3L174.8 848.2L175.4 848.1L175.9 848.0L176.4 847.8L177.0 847.7L177.5 847.5L178.0 847.3L178.6 847.1L179.1 846.9L179.6 846.7L180.2 846.4L180.7 846.1L181.2 845.8L181.8 845.4L182.3 845.0L182.8 844.6L183.4 844.1L183.9 843.5L184.4 842.8L185.0 842.1L185.5 841.2L186.0 840.2L186.6 839.1L187.1 837.7L187.6 836.2L188.2 834.4L188.7 832.2L189.2 829.6L189.8 826.6L190.3 822.9L190.9 818.4L191.4 812.9L191.9 806.2L192.5 798.2L193.0 788.6L193.5 777.5L194.1 765.4L194.6 753.5L195.1 743.6L195.7 738.2L196.2 738.7L196.7 745.0L197.3 755.4L197.8 767.5L198.3 779.5L198.9 790.4L199.4 799.8L199.9 807.6L200.5 814.1L201.0 819.4L201.5 823.8L202.1 827.5L202.6 830.5L203.1 833.0L203.7 835.1L204.2 836.9L204.7 838.5L205.3 839.8L205.8 841.0L206.4 842.0L206.9 842.8L207.4 843.6L208.0 844.3L208.5 844.9L209.0 845.4L209.6 845.9L210.1 846.3L210.6 846.7L211.2 847.1L211.7 847.4L212.2 847.7L212.8 848.0L213.3 848.2L213.8 848.4L214.4 848.6L214.9 848.8L215.4 849.0L216.0 849.2L216.5 849.3L217.0 849.5L217.6 849.6L218.1 849.8L218.6 849.9L219.2 850.0L219.7 850.1L220.2 850.2L220.8 850.3L221.3 850.4L221.9 850.5L222.4 850.5L222.9 850.6L223.5 850.7L224.0 850.8L224.5 850.8L225.1 850.9L225.6 850.9L226.1 851.0L226.7 851.1L227.2 851.1L227.7 851.2L228.3 851.2L228.8 851.3L229.3 851.3L229.9 851.3L230.4 851.4L230.9 851.4L231.5 851.5L232.0 851.5L232.5 851.5L233.1 851.6L233.6 851.6L234.1 851.6L234.7 851.7L235.2 851.7L235.7 851.7L236.3 851.8L236.8 851.8L237.3 851.8L237.9 851.8L238.4 851.9L239.0 851.9L239.5 851.9L240.0 851.9L240.6 851.9L241.1 852.0L241.6 852.0L242.2 852.0L242.7 852.0L243.2 852.0L243.8 852.1L244.3 852.1L244.8 852.1L245.4 852.1L245.9 852.1L246.4 852.1L247.0 852.1L247.5 852.2L248.0 852.2L248.6 852.2L249.1 852.2L249.6 852.2L250.2 852.2L250.7 852.2L251.2 852.2L251.8 852.2L252.3 852.2L252.8 852.3L253.4 852.3L253.9 852.3L254.5 852.3L255.0 852.3L255.5 852.3L256.1 852.3L256.6 852.3L257.1 852.3L257.7 852.3L258.2 852.3L258.7 852.3L259.3 852.3L259.8 852.3L260.3 852.3L260.9 852.3L261.4 852.3L261.4 853.9L69.0 853.9Z" fill="#c5d1e2" stroke="none"/>
<line x1="65.10" y1="853.90" x2="265.30" y2="853.90" stroke="#c0c8d8" stroke-width="1"/>
<path d="M69.0 852.3L69.5 852.3L70.1 852.3L70.6 852.3L71.1 852.3L71.7 852.3L72.2 852.3L72.7 852.3L73.3 852.3L73.8 852.3L74.3 852.3L74.9 852.3L75.4 852.3L75.9 852.3L76.5 852.3L77.0 852.3L77.6 852.3L78.1 852.2L78.6 852.2L79.2 852.2L79.7 852.2L80.2 852.2L80.8 852.2L81.3 852.2L81.8 852.2L82.4 852.2L82.9 852.2L83.4 852.1L84.0 852.1L84.5 852.1L85.0 852.1L85.6 852.1L86.1 852.1L86.6 852.1L87.2 852.0L87.7 852.0L88.2 852.0L88.8 852.0L89.3 852.0L89.8 851.9L90.4 851.9L90.9 851.9L91.4 851.9L92.0 851.9L92.5 851.8L93.0 851.8L93.6 851.8L94.1 851.8L94.7 851.7L95.2 851.7L95.7 851.7L96.3 851.6L96.8 851.6L97.3 851.6L97.9 851.5L98.4 851.5L98.9 851.5L99.5 851.4L100.0 851.4L100.5 851.3L101.1 851.3L101.6 851.3L102.1 851.2L102.7 851.2L103.2 851.1L103.7 851.1L104.3 851.0L104.8 850.9L105.3 850.9L105.9 850.8L106.4 850.8L106.9 850.7L107.5 850.6L108.0 850.5L108.5 850.5L109.1 850.4L109.6 850.3L110.2 850.2L110.7 850.1L111.2 850.0L111.8 849.9L112.3 849.8L112.8 849.6L113.4 849.5L113.9 849.3L114.4 849.2L115.0 849.0L115.5 848.8L116.0 848.6L116.6 848.4L117.1 848.2L117.6 848.0L118.2 847.7L118.7 847.4L119.2 847.1L119.8 846.7L120.3 846.3L120.8 845.9L121.4 845.4L121.9 844.9L122.4 844.3L123.0 843.6L123.5 842.8L124.0 842.0L124.6 841.0L125.1 839.8L125.7 838.5L126.2 836.9L126.7 835.1L127.3 833.0L127.8 830.5L128.3 827.5L128.9 823.8L129.4 819.4L129.9 814.1L130.5 807.6L131.0 799.8L131.5 790.4L132.1 779.5L132.6 767.5L133.1 755.4L133.7 745.0L134.2 738.7L134.7 738.2L135.3 743.6L135.8 753.5L136.3 765.4L136.9 777.5L137.4 788.6L137.9 798.2L138.5 806.2L139.0 812.9L139.5 818.4L140.1 822.9L140.6 826.6L141.2 829.6L141.7 832.2L142.2 834.4L142.8 836.2L143.3 837.7L143.8 839.1L144.4 840.2L144.9 841.2L145.4 842.1L146.0 842.8L146.5 843.5L147.0 844.1L147.6 844.6L148.1 845.0L148.6 845.4L149.2 845.8L149.7 846.1L150.2 846.4L150.8 846.7L151.3 846.9L151.8 847.1L152.4 847.3L152.9 847.5L153.4 847.7L154.0 847.8L154.5 848.0L155.0 848.1L155.6 848.2L156.1 848.3L156.6 848.4L157.2 848.5L157.7 848.5L158.3 848.6L158.8 848.7L159.3 848.7L159.9 848.8L160.4 848.8L160.9 848.9L161.5 848.9L162.0 848.9L162.5 848.9L163.1 849.0L163.6 849.0L164.1 849.0L164.7 849.0L165.2 849.0L165.7 849.0L166.3 849.0L166.8 849.0L167.3 849.0L167.9 848.9L168.4 848.9L168.9 848.9L169.5 848.9L170.0 848.8L170.5 848.8L171.1 848.7L171.6 848.7L172.1 848.6L172.7 848.5L173.2 848.5L173.8 848.4L174.3 848.3L174.8 848.2L175.4 848.1L175.9 848.0L176.4 847.8L177.0 847.7L177.5 847.5L178.0 847.3L178.6 847.1L179.1 846.9L179.6 846.7L180.2 846.4L180.7 846.1L181.2 845.8L181.8 845.4L182.3 845.0L182.8 844.6L183.4 844.1L183.9 843.5L184.4 842.8L185.0 842.1L185.5 841.2L186.0 840.2L186.6 839.1L187.1 837.7L187.6 836.2L188.2 834.4L188.7 832.2L189.2 829.6L189.8 826.6L190.3 822.9L190.9 818.4L191.4 812.9L191.9 806.2L192.5 798.2L193.0 788.6L193.5 777.5L194.1 765.4L194.6 753.5L195.1 743.6L195.7 738.2L196.2 738.7L196.7 745.0L197.3 755.4L197.8 767.5L198.3 779.5L198.9 790.4L199.4 799.8L199.9 807.6L200.5 814.1L201.0 819.4L201.5 823.8L202.1 827.5L202.6 830.5L203.1 833.0L203.7 835.1L204.2 836.9L204.7 838.5L205.3 839.8L205.8 841.0L206.4 842.0L206.9 842.8L207.4 843.6L208.0 844.3L208.5 844.9L209.0 845.4L209.6 845.9L210.1 846.3L210.6 846.7L211.2 847.1L211.7 847.4L212.2 847.7L212.8 848.0L213.3 848.2L213.8 848.4L214.4 848.6L214.9 848.8L215.4 849.0L216.0 849.2L216.5 849.3L217.0 849.5L217.6 849.6L218.1 849.8L218.6 849.9L219.2 850.0L219.7 850.1L220.2 850.2L220.8 850.3L221.3 850.4L221.9 850.5L222.4 850.5L222.9 850.6L223.5 850.7L224.0 850.8L224.5 850.8L225.1 850.9L225.6 850.9L226.1 851.0L226.7 851.1L227.2 851.1L227.7 851.2L228.3 851.2L228.8 851.3L229.3 851.3L229.9 851.3L230.4 851.4L230.9 851.4L231.5 851.5L232.0 851.5L232.5 851.5L233.1 851.6L233.6 851.6L234.1 851.6L234.7 851.7L235.2 851.7L235.7 851.7L236.3 851.8L236.8 851.8L237.3 851.8L237.9 851.8L238.4 851.9L239.0 851.9L239.5 851.9L240.0 851.9L240.6 851.9L241.1 852.0L241.6 852.0L242.2 852.0L242.7 852.0L243.2 852.0L243.8 852.1L244.3 852.1L244.8 852.1L245.4 852.1L245.9 852.1L246.4 852.1L247.0 852.1L247.5 852.2L248.0 852.2L248.6 852.2L249.1 852.2L249.6 852.2L250.2 852.2L250.7 852.2L251.2 852.2L251.8 852.2L252.3 852.2L252.8 852.3L253.4 852.3L253.9 852.3L254.5 852.3L255.0 852.3L255.5 852.3L256.1 852.3L256.6 852.3L257.1 852.3L257.7 852.3L258.2 852.3L258.7 852.3L259.3 852.3L259.8 852.3L260.3 852.3L260.9 852.3L261.4 852.3" fill="none" stroke="#5a7db2" stroke-width="1.7" stroke-linejoin="round"/>
<path d="M69.0 852.0L69.5 852.0L70.1 852.0L70.6 852.0L71.1 852.0L71.7 852.0L72.2 852.0L72.7 852.0L73.3 852.0L73.8 852.0L74.3 852.0L74.9 852.0L75.4 852.0L75.9 852.0L76.5 852.0L77.0 852.0L77.6 852.0L78.1 852.0L78.6 852.0L79.2 851.9L79.7 851.9L80.2 851.9L80.8 851.9L81.3 851.9L81.8 851.9L82.4 851.9L82.9 851.9L83.4 851.9L84.0 851.8L84.5 851.8L85.0 851.8L85.6 851.8L86.1 851.8L86.6 851.8L87.2 851.8L87.7 851.7L88.2 851.7L88.8 851.7L89.3 851.7L89.8 851.7L90.4 851.6L90.9 851.6L91.4 851.6L92.0 851.6L92.5 851.5L93.0 851.5L93.6 851.5L94.1 851.5L94.7 851.4L95.2 851.4L95.7 851.4L96.3 851.3L96.8 851.3L97.3 851.3L97.9 851.2L98.4 851.2L98.9 851.2L99.5 851.1L100.0 851.1L100.5 851.1L101.1 851.0L101.6 851.0L102.1 850.9L102.7 850.9L103.2 850.8L103.7 850.8L104.3 850.7L104.8 850.7L105.3 850.6L105.9 850.5L106.4 850.5L106.9 850.4L107.5 850.3L108.0 850.3L108.5 850.2L109.1 850.1L109.6 850.0L110.2 849.9L110.7 849.8L111.2 849.7L111.8 849.6L112.3 849.5L112.8 849.3L113.4 849.2L113.9 849.1L114.4 848.9L115.0 848.7L115.5 848.6L116.0 848.4L116.6 848.1L117.1 847.9L117.6 847.7L118.2 847.4L118.7 847.1L119.2 846.8L119.8 846.4L120.3 846.0L120.8 845.6L121.4 845.1L121.9 844.6L122.4 844.0L123.0 843.3L123.5 842.5L124.0 841.7L124.6 840.7L125.1 839.5L125.7 838.2L126.2 836.7L126.7 834.9L127.3 832.7L127.8 830.2L128.3 827.2L128.9 823.5L129.4 819.1L129.9 813.8L130.5 807.3L131.0 799.5L131.5 790.1L132.1 779.2L132.6 767.2L133.1 755.1L133.7 744.7L134.2 738.4L134.7 737.9L135.3 743.4L135.8 753.2L136.3 765.1L136.9 777.2L137.4 788.3L137.9 797.9L138.5 805.9L139.0 812.6L139.5 818.1L140.1 822.6L140.6 826.3L141.2 829.4L141.7 831.9L142.2 834.1L142.8 835.9L143.3 837.5L143.8 838.8L144.4 839.9L144.9 840.9L145.4 841.8L146.0 842.5L146.5 843.2L147.0 843.8L147.6 844.3L148.1 844.7L148.6 845.1L149.2 845.5L149.7 845.8L150.2 846.1L150.8 846.4L151.3 846.6L151.8 846.9L152.4 847.1L152.9 847.2L153.4 847.4L154.0 847.5L154.5 847.7L155.0 847.8L155.6 847.9L156.1 848.0L156.6 848.1L157.2 848.2L157.7 848.3L158.3 848.3L158.8 848.4L159.3 848.4L159.9 848.5L160.4 848.5L160.9 848.6L161.5 848.6L162.0 848.6L162.5 848.7L163.1 848.7L163.6 848.7L164.1 848.7L164.7 848.7L165.2 848.7L165.7 848.7L166.3 848.7L166.8 848.7L167.3 848.7L167.9 848.7L168.4 848.6L168.9 848.6L169.5 848.6L170.0 848.5L170.5 848.5L171.1 848.4L171.6 848.4L172.1 848.3L172.7 848.3L173.2 848.2L173.8 848.1L174.3 848.0L174.8 847.9L175.4 847.8L175.9 847.7L176.4 847.5L177.0 847.4L177.5 847.2L178.0 847.1L178.6 846.9L179.1 846.6L179.6 846.4L180.2 846.1L180.7 845.8L181.2 845.5L181.8 845.1L182.3 844.7L182.8 844.3L183.4 843.8L183.9 843.2L184.4 842.5L185.0 841.8L185.5 840.9L186.0 839.9L186.6 838.8L187.1 837.5L187.6 835.9L188.2 834.1L188.7 831.9L189.2 829.4L189.8 826.3L190.3 822.6L190.9 818.1L191.4 812.6L191.9 805.9L192.5 797.9L193.0 788.3L193.5 777.2L194.1 765.1L194.6 753.2L195.1 743.4L195.7 737.9L196.2 738.4L196.7 744.7L197.3 755.1L197.8 767.2L198.3 779.2L198.9 790.1L199.4 799.5L199.9 807.3L200.5 813.8L201.0 819.1L201.5 823.5L202.1 827.2L202.6 830.2L203.1 832.7L203.7 834.9L204.2 836.7L204.7 838.2L205.3 839.5L205.8 840.7L206.4 841.7L206.9 842.5L207.4 843.3L208.0 844.0L208.5 844.6L209.0 845.1L209.6 845.6L210.1 846.0L210.6 846.4L211.2 846.8L211.7 847.1L212.2 847.4L212.8 847.7L213.3 847.9L213.8 848.1L214.4 848.4L214.9 848.6L215.4 848.7L216.0 848.9L216.5 849.1L217.0 849.2L217.6 849.3L218.1 849.5L218.6 849.6L219.2 849.7L219.7 849.8L220.2 849.9L220.8 850.0L221.3 850.1L221.9 850.2L222.4 850.3L222.9 850.3L223.5 850.4L224.0 850.5L224.5 850.5L225.1 850.6L225.6 850.7L226.1 850.7L226.7 850.8L227.2 850.8L227.7 850.9L228.3 850.9L228.8 851.0L229.3 851.0L229.9 851.1L230.4 851.1L230.9 851.1L231.5 851.2L232.0 851.2L232.5 851.2L233.1 851.3L233.6 851.3L234.1 851.3L234.7 851.4L235.2 851.4L235.7 851.4L236.3 851.5L236.8 851.5L237.3 851.5L237.9 851.5L238.4 851.6L239.0 851.6L239.5 851.6L240.0 851.6L240.6 851.7L241.1 851.7L241.6 851.7L242.2 851.7L242.7 851.7L243.2 851.8L243.8 851.8L244.3 851.8L244.8 851.8L245.4 851.8L245.9 851.8L246.4 851.8L247.0 851.9L247.5 851.9L248.0 851.9L248.6 851.9L249.1 851.9L249.6 851.9L250.2 851.9L250.7 851.9L251.2 851.9L251.8 852.0L252.3 852.0L252.8 852.0L253.4 852.0L253.9 852.0L254.5 852.0L255.0 852.0L255.5 852.0L256.1 852.0L256.6 852.0L257.1 852.0L257.7 852.0L258.2 852.0L258.7 852.0L259.3 852.0L259.8 852.0L260.3 852.0L260.9 852.0L261.4 852.0" fill="none" stroke="#4b6699" stroke-width="1.9" stroke-dasharray="4.2 2.7" stroke-linejoin="round"/>
<path d="M69.0 863.0L69.5 863.0L70.1 863.0L70.6 863.1L71.1 863.2L71.7 863.3L72.2 863.5L72.7 863.6L73.3 863.8L73.8 864.0L74.3 864.3L74.9 864.5L75.4 864.7L75.9 865.0L76.5 865.2L77.0 865.5L77.6 865.8L78.1 866.0L78.6 866.3L79.2 866.6L79.7 866.8L80.2 867.1L80.8 867.5L81.3 867.8L81.8 868.2L82.4 868.5L82.9 868.9L83.4 869.3L84.0 869.8L84.5 870.2L85.0 870.7L85.6 871.1L86.1 871.6L86.6 872.1L87.2 872.6L87.7 873.1L88.2 873.6L88.8 874.1L89.3 874.7L89.8 875.2L90.4 875.7L90.9 876.3L91.4 876.9L92.0 877.5L92.5 878.2L93.0 878.8L93.6 879.5L94.1 880.2L94.7 880.9L95.2 881.6L95.7 882.3L96.3 883.0L96.8 883.8L97.3 884.5L97.9 885.3L98.4 886.0L98.9 886.8L99.5 887.5L100.0 888.3L100.5 889.1L101.1 889.8L101.6 890.6L102.1 891.4L102.7 892.2L103.2 893.0L103.7 893.9L104.3 894.7L104.8 895.5L105.3 896.4L105.9 897.2L106.4 898.1L106.9 899.0L107.5 899.9L108.0 900.7L108.5 901.7L109.1 902.6L109.6 903.5L110.2 904.4L110.7 905.4L111.2 906.3L111.8 907.3L112.3 908.4L112.8 909.4L113.4 910.5L113.9 911.6L114.4 912.6L115.0 913.7L115.5 914.8L116.0 915.9L116.6 917.0L117.1 918.1L117.6 919.2L118.2 920.3L118.7 921.4L119.2 922.5L119.8 923.6L120.3 924.6L120.8 925.6L121.4 926.6L121.9 927.5L122.4 928.4L123.0 929.3L123.5 930.2L124.0 931.1L124.6 932.0L125.1 932.9L125.7 933.7L126.2 934.6L126.7 935.4L127.3 936.3L127.8 937.1L128.3 938.0L128.9 938.8L129.4 939.6L129.9 940.4L130.5 941.2L131.0 942.0L131.5 942.7L132.1 943.4L132.6 944.1L133.1 944.7L133.7 945.3L134.2 945.8L134.7 946.3L135.3 946.7L135.8 947.1L136.3 947.5L136.9 947.8L137.4 948.1L137.9 948.4L138.5 948.6L139.0 948.8L139.5 949.0L140.1 949.2L140.6 949.4L141.2 949.6L141.7 949.7L142.2 949.9L142.8 950.0L143.3 950.1L143.8 950.2L144.4 950.3L144.9 950.3L145.4 950.4L146.0 950.5L146.5 950.6L147.0 950.6L147.6 950.7L148.1 950.7L148.6 950.8L149.2 950.8L149.7 950.9L150.2 950.9L150.8 951.0L151.3 951.0L151.8 951.1L152.4 951.1L152.9 951.1L153.4 951.2L154.0 951.2L154.5 951.2L155.0 951.2L155.6 951.3L156.1 951.3L156.6 951.3L157.2 951.3L157.7 951.4L158.3 951.4L158.8 951.4L159.3 951.4L159.9 951.5L160.4 951.5L160.9 951.5L161.5 951.5L162.0 951.5L162.5 951.5L163.1 951.6L163.6 951.6L164.1 951.6L164.7 951.6L165.2 951.6L165.7 951.6L166.3 951.6L166.8 951.6L167.3 951.6L167.9 951.5L168.4 951.5L168.9 951.5L169.5 951.5L170.0 951.5L170.5 951.5L171.1 951.4L171.6 951.4L172.1 951.4L172.7 951.4L173.2 951.3L173.8 951.3L174.3 951.3L174.8 951.3L175.4 951.2L175.9 951.2L176.4 951.2L177.0 951.2L177.5 951.1L178.0 951.1L178.6 951.1L179.1 951.0L179.6 951.0L180.2 950.9L180.7 950.9L181.2 950.8L181.8 950.8L182.3 950.7L182.8 950.7L183.4 950.6L183.9 950.6L184.4 950.5L185.0 950.4L185.5 950.3L186.0 950.3L186.6 950.2L187.1 950.1L187.6 950.0L188.2 949.9L188.7 949.7L189.2 949.6L189.8 949.4L190.3 949.2L190.9 949.0L191.4 948.8L191.9 948.6L192.5 948.4L193.0 948.1L193.5 947.8L194.1 947.5L194.6 947.1L195.1 946.7L195.7 946.3L196.2 945.8L196.7 945.3L197.3 944.7L197.8 944.1L198.3 943.4L198.9 942.7L199.4 942.0L199.9 941.2L200.5 940.4L201.0 939.6L201.5 938.8L202.1 938.0L202.6 937.1L203.1 936.3L203.7 935.4L204.2 934.6L204.7 933.7L205.3 932.9L205.8 932.0L206.4 931.1L206.9 930.2L207.4 929.3L208.0 928.4L208.5 927.5L209.0 926.6L209.6 925.6L210.1 924.6L210.6 923.6L211.2 922.5L211.7 921.4L212.2 920.3L212.8 919.2L213.3 918.1L213.8 917.0L214.4 915.9L214.9 914.8L215.4 913.7L216.0 912.6L216.5 911.6L217.0 910.5L217.6 909.4L218.1 908.4L218.6 907.3L219.2 906.3L219.7 905.4L220.2 904.4L220.8 903.5L221.3 902.6L221.9 901.7L222.4 900.7L222.9 899.9L223.5 899.0L224.0 898.1L224.5 897.2L225.1 896.4L225.6 895.5L226.1 894.7L226.7 893.9L227.2 893.0L227.7 892.2L228.3 891.4L228.8 890.6L229.3 889.8L229.9 889.1L230.4 888.3L230.9 887.5L231.5 886.8L232.0 886.0L232.5 885.3L233.1 884.5L233.6 883.8L234.1 883.0L234.7 882.3L235.2 881.6L235.7 880.9L236.3 880.2L236.8 879.5L237.3 878.8L237.9 878.2L238.4 877.5L239.0 876.9L239.5 876.3L240.0 875.7L240.6 875.2L241.1 874.7L241.6 874.1L242.2 873.6L242.7 873.1L243.2 872.6L243.8 872.1L244.3 871.6L244.8 871.1L245.4 870.7L245.9 870.2L246.4 869.8L247.0 869.3L247.5 868.9L248.0 868.5L248.6 868.2L249.1 867.8L249.6 867.5L250.2 867.1L250.7 866.8L251.2 866.6L251.8 866.3L252.3 866.0L252.8 865.8L253.4 865.5L253.9 865.3L254.5 865.1L255.0 864.8L255.5 864.6L256.1 864.4L256.6 864.2L257.1 864.0L257.7 863.8L258.2 863.7L258.7 863.5L259.3 863.4L259.8 863.3L260.3 863.1L260.9 863.0L261.4 863.0" fill="none" stroke="#5a7db2" stroke-width="1.4" stroke-linejoin="round"/>
<path d="M69.0 861.5L69.5 861.6L70.1 861.6L70.6 861.7L71.1 861.8L71.7 861.9L72.2 862.1L72.7 862.2L73.3 862.4L73.8 862.6L74.3 862.8L74.9 863.1L75.4 863.3L75.9 863.6L76.5 863.8L77.0 864.1L77.6 864.3L78.1 864.6L78.6 864.9L79.2 865.1L79.7 865.4L80.2 865.7L80.8 866.0L81.3 866.4L81.8 866.7L82.4 867.1L82.9 867.5L83.4 867.9L84.0 868.4L84.5 868.8L85.0 869.2L85.6 869.7L86.1 870.2L86.6 870.7L87.2 871.2L87.7 871.7L88.2 872.2L88.8 872.7L89.3 873.2L89.8 873.8L90.4 874.3L90.9 874.9L91.4 875.5L92.0 876.1L92.5 876.7L93.0 877.4L93.6 878.1L94.1 878.7L94.7 879.4L95.2 880.1L95.7 880.9L96.3 881.6L96.8 882.3L97.3 883.1L97.9 883.8L98.4 884.6L98.9 885.4L99.5 886.1L100.0 886.9L100.5 887.7L101.1 888.4L101.6 889.2L102.1 890.0L102.7 890.8L103.2 891.6L103.7 892.4L104.3 893.3L104.8 894.1L105.3 894.9L105.9 895.8L106.4 896.7L106.9 897.5L107.5 898.4L108.0 899.3L108.5 900.2L109.1 901.2L109.6 902.1L110.2 903.0L110.7 904.0L111.2 904.9L111.8 905.9L112.3 907.0L112.8 908.0L113.4 909.1L113.9 910.1L114.4 911.2L115.0 912.3L115.5 913.4L116.0 914.5L116.6 915.6L117.1 916.7L117.6 917.8L118.2 918.9L118.7 920.0L119.2 921.1L119.8 922.2L120.3 923.2L120.8 924.2L121.4 925.1L121.9 926.1L122.4 927.0L123.0 927.9L123.5 928.8L124.0 929.7L124.6 930.6L125.1 931.5L125.7 932.3L126.2 933.2L126.7 934.0L127.3 934.9L127.8 935.7L128.3 936.6L128.9 937.4L129.4 938.2L129.9 939.0L130.5 939.8L131.0 940.5L131.5 941.3L132.1 942.0L132.6 942.7L133.1 943.3L133.7 943.9L134.2 944.4L134.7 944.9L135.3 945.3L135.8 945.7L136.3 946.1L136.9 946.4L137.4 946.7L137.9 946.9L138.5 947.2L139.0 947.4L139.5 947.6L140.1 947.8L140.6 948.0L141.2 948.2L141.7 948.3L142.2 948.4L142.8 948.6L143.3 948.7L143.8 948.8L144.4 948.8L144.9 948.9L145.4 949.0L146.0 949.1L146.5 949.1L147.0 949.2L147.6 949.3L148.1 949.3L148.6 949.4L149.2 949.4L149.7 949.5L150.2 949.5L150.8 949.6L151.3 949.6L151.8 949.6L152.4 949.7L152.9 949.7L153.4 949.7L154.0 949.8L154.5 949.8L155.0 949.8L155.6 949.8L156.1 949.9L156.6 949.9L157.2 949.9L157.7 949.9L158.3 950.0L158.8 950.0L159.3 950.0L159.9 950.0L160.4 950.1L160.9 950.1L161.5 950.1L162.0 950.1L162.5 950.1L163.1 950.1L163.6 950.2L164.1 950.2L164.7 950.2L165.2 950.2L165.7 950.2L166.3 950.2L166.8 950.2L167.3 950.1L167.9 950.1L168.4 950.1L168.9 950.1L169.5 950.1L170.0 950.1L170.5 950.0L171.1 950.0L171.6 950.0L172.1 950.0L172.7 949.9L173.2 949.9L173.8 949.9L174.3 949.9L174.8 949.8L175.4 949.8L175.9 949.8L176.4 949.8L177.0 949.7L177.5 949.7L178.0 949.7L178.6 949.6L179.1 949.6L179.6 949.6L180.2 949.5L180.7 949.5L181.2 949.4L181.8 949.4L182.3 949.3L182.8 949.3L183.4 949.2L183.9 949.1L184.4 949.1L185.0 949.0L185.5 948.9L186.0 948.8L186.6 948.8L187.1 948.7L187.6 948.6L188.2 948.4L188.7 948.3L189.2 948.2L189.8 948.0L190.3 947.8L190.9 947.6L191.4 947.4L191.9 947.2L192.5 946.9L193.0 946.7L193.5 946.4L194.1 946.1L194.6 945.7L195.1 945.3L195.7 944.9L196.2 944.4L196.7 943.9L197.3 943.3L197.8 942.7L198.3 942.0L198.9 941.3L199.4 940.5L199.9 939.8L200.5 939.0L201.0 938.2L201.5 937.4L202.1 936.6L202.6 935.7L203.1 934.9L203.7 934.0L204.2 933.2L204.7 932.3L205.3 931.5L205.8 930.6L206.4 929.7L206.9 928.8L207.4 927.9L208.0 927.0L208.5 926.1L209.0 925.1L209.6 924.2L210.1 923.2L210.6 922.2L211.2 921.1L211.7 920.0L212.2 918.9L212.8 917.8L213.3 916.7L213.8 915.6L214.4 914.5L214.9 913.4L215.4 912.3L216.0 911.2L216.5 910.1L217.0 909.1L217.6 908.0L218.1 907.0L218.6 905.9L219.2 904.9L219.7 904.0L220.2 903.0L220.8 902.1L221.3 901.2L221.9 900.2L222.4 899.3L222.9 898.4L223.5 897.5L224.0 896.7L224.5 895.8L225.1 894.9L225.6 894.1L226.1 893.3L226.7 892.4L227.2 891.6L227.7 890.8L228.3 890.0L228.8 889.2L229.3 888.4L229.9 887.7L230.4 886.9L230.9 886.1L231.5 885.4L232.0 884.6L232.5 883.8L233.1 883.1L233.6 882.3L234.1 881.6L234.7 880.9L235.2 880.1L235.7 879.4L236.3 878.7L236.8 878.1L237.3 877.4L237.9 876.7L238.4 876.1L239.0 875.5L239.5 874.9L240.0 874.3L240.6 873.8L241.1 873.2L241.6 872.7L242.2 872.2L242.7 871.7L243.2 871.2L243.8 870.7L244.3 870.2L244.8 869.7L245.4 869.2L245.9 868.8L246.4 868.4L247.0 867.9L247.5 867.5L248.0 867.1L248.6 866.7L249.1 866.4L249.6 866.0L250.2 865.7L250.7 865.4L251.2 865.1L251.8 864.9L252.3 864.6L252.8 864.4L253.4 864.1L253.9 863.9L254.5 863.6L255.0 863.4L255.5 863.2L256.1 863.0L256.6 862.8L257.1 862.6L257.7 862.4L258.2 862.3L258.7 862.1L259.3 862.0L259.8 861.8L260.3 861.7L260.9 861.6L261.4 861.5" fill="none" stroke="#4b6699" stroke-width="2.1" stroke-dasharray="5.4 2.0" stroke-linejoin="round"/>
<path d="M69.0 934.9L69.5 934.9L70.1 934.9L70.6 934.9L71.1 934.9L71.7 935.0L72.2 935.0L72.7 935.1L73.3 935.1L73.8 935.2L74.3 935.3L74.9 935.3L75.4 935.4L75.9 935.5L76.5 935.6L77.0 935.7L77.6 935.8L78.1 935.9L78.6 936.0L79.2 936.1L79.7 936.2L80.2 936.3L80.8 936.4L81.3 936.5L81.8 936.6L82.4 936.7L82.9 936.8L83.4 936.9L84.0 937.0L84.5 937.1L85.0 937.2L85.6 937.3L86.1 937.4L86.6 937.5L87.2 937.6L87.7 937.7L88.2 937.8L88.8 937.9L89.3 938.0L89.8 938.1L90.4 938.2L90.9 938.3L91.4 938.5L92.0 938.6L92.5 938.7L93.0 938.8L93.6 938.9L94.1 939.0L94.7 939.1L95.2 939.2L95.7 939.4L96.3 939.5L96.8 939.6L97.3 939.7L97.9 939.8L98.4 939.9L98.9 940.0L99.5 940.1L100.0 940.3L100.5 940.4L101.1 940.5L101.6 940.6L102.1 940.7L102.7 940.8L103.2 940.9L103.7 941.0L104.3 941.1L104.8 941.2L105.3 941.3L105.9 941.4L106.4 941.5L106.9 941.6L107.5 941.7L108.0 941.8L108.5 941.9L109.1 942.0L109.6 942.1L110.2 942.2L110.7 942.3L111.2 942.5L111.8 942.6L112.3 942.7L112.8 942.8L113.4 942.9L113.9 943.0L114.4 943.1L115.0 943.3L115.5 943.4L116.0 943.5L116.6 943.6L117.1 943.8L117.6 943.9L118.2 944.0L118.7 944.1L119.2 944.3L119.8 944.4L120.3 944.6L120.8 944.7L121.4 944.8L121.9 945.0L122.4 945.1L123.0 945.3L123.5 945.4L124.0 945.6L124.6 945.7L125.1 945.9L125.7 946.0L126.2 946.2L126.7 946.4L127.3 946.6L127.8 946.8L128.3 947.0L128.9 947.2L129.4 947.4L129.9 947.6L130.5 947.9L131.0 948.2L131.5 948.5L132.1 948.8L132.6 949.1L133.1 949.5L133.7 949.9L134.2 950.3L134.7 950.7L135.3 951.2L135.8 951.7L136.3 952.2L136.9 952.7L137.4 953.3L137.9 953.8L138.5 954.4L139.0 955.0L139.5 955.6L140.1 956.1L140.6 956.7L141.2 957.3L141.7 957.9L142.2 958.4L142.8 959.0L143.3 959.6L143.8 960.1L144.4 960.7L144.9 961.3L145.4 961.9L146.0 962.5L146.5 963.1L147.0 963.7L147.6 964.2L148.1 964.8L148.6 965.4L149.2 965.9L149.7 966.5L150.2 967.0L150.8 967.4L151.3 967.9L151.8 968.3L152.4 968.7L152.9 969.0L153.4 969.3L154.0 969.6L154.5 969.8L155.0 970.1L155.6 970.4L156.1 970.6L156.6 970.9L157.2 971.1L157.7 971.3L158.3 971.6L158.8 971.8L159.3 972.0L159.9 972.1L160.4 972.3L160.9 972.5L161.5 972.6L162.0 972.8L162.5 972.9L163.1 973.0L163.6 973.1L164.1 973.2L164.7 973.3L165.2 973.3L165.7 973.3L166.3 973.2L166.8 973.1L167.3 973.0L167.9 972.9L168.4 972.8L168.9 972.6L169.5 972.5L170.0 972.3L170.5 972.1L171.1 972.0L171.6 971.8L172.1 971.6L172.7 971.3L173.2 971.1L173.8 970.9L174.3 970.6L174.8 970.4L175.4 970.1L175.9 969.8L176.4 969.6L177.0 969.3L177.5 969.0L178.0 968.7L178.6 968.3L179.1 967.9L179.6 967.4L180.2 967.0L180.7 966.5L181.2 965.9L181.8 965.4L182.3 964.8L182.8 964.2L183.4 963.7L183.9 963.1L184.4 962.5L185.0 961.9L185.5 961.3L186.0 960.7L186.6 960.1L187.1 959.6L187.6 959.0L188.2 958.4L188.7 957.9L189.2 957.3L189.8 956.7L190.3 956.1L190.9 955.6L191.4 955.0L191.9 954.4L192.5 953.8L193.0 953.3L193.5 952.7L194.1 952.2L194.6 951.7L195.1 951.2L195.7 950.7L196.2 950.3L196.7 949.9L197.3 949.5L197.8 949.1L198.3 948.8L198.9 948.5L199.4 948.2L199.9 947.9L200.5 947.6L201.0 947.4L201.5 947.2L202.1 947.0L202.6 946.8L203.1 946.6L203.7 946.4L204.2 946.2L204.7 946.0L205.3 945.9L205.8 945.7L206.4 945.6L206.9 945.4L207.4 945.3L208.0 945.1L208.5 945.0L209.0 944.8L209.6 944.7L210.1 944.6L210.6 944.4L211.2 944.3L211.7 944.1L212.2 944.0L212.8 943.9L213.3 943.8L213.8 943.6L214.4 943.5L214.9 943.4L215.4 943.3L216.0 943.1L216.5 943.0L217.0 942.9L217.6 942.8L218.1 942.7L218.6 942.6L219.2 942.5L219.7 942.3L220.2 942.2L220.8 942.1L221.3 942.0L221.9 941.9L222.4 941.8L222.9 941.7L223.5 941.6L224.0 941.5L224.5 941.4L225.1 941.3L225.6 941.2L226.1 941.1L226.7 941.0L227.2 940.9L227.7 940.8L228.3 940.7L228.8 940.6L229.3 940.5L229.9 940.4L230.4 940.3L230.9 940.1L231.5 940.0L232.0 939.9L232.5 939.8L233.1 939.7L233.6 939.6L234.1 939.5L234.7 939.4L235.2 939.2L235.7 939.1L236.3 939.0L236.8 938.9L237.3 938.8L237.9 938.7L238.4 938.6L239.0 938.5L239.5 938.3L240.0 938.2L240.6 938.1L241.1 938.0L241.6 937.9L242.2 937.8L242.7 937.7L243.2 937.6L243.8 937.5L244.3 937.4L244.8 937.3L245.4 937.2L245.9 937.1L246.4 937.1L247.0 937.0L247.5 936.9L248.0 936.8L248.6 936.7L249.1 936.6L249.6 936.5L250.2 936.4L250.7 936.4L251.2 936.3L251.8 936.2L252.3 936.1L252.8 936.0L253.4 935.9L253.9 935.9L254.5 935.8L255.0 935.7L255.5 935.6L256.1 935.6L256.6 935.5L257.1 935.4L257.7 935.3L258.2 935.3L258.7 935.2L259.3 935.1L259.8 935.1L260.3 935.0L260.9 934.9L261.4 934.9" fill="none" stroke="#5a7db2" stroke-width="1.4" stroke-linejoin="round"/>
<path d="M69.0 933.4L69.5 933.4L70.1 933.5L70.6 933.5L71.1 933.5L71.7 933.6L72.2 933.6L72.7 933.6L73.3 933.7L73.8 933.8L74.3 933.8L74.9 933.9L75.4 934.0L75.9 934.1L76.5 934.2L77.0 934.3L77.6 934.4L78.1 934.5L78.6 934.6L79.2 934.7L79.7 934.8L80.2 934.9L80.8 935.0L81.3 935.1L81.8 935.2L82.4 935.3L82.9 935.4L83.4 935.5L84.0 935.6L84.5 935.7L85.0 935.8L85.6 935.9L86.1 936.0L86.6 936.1L87.2 936.2L87.7 936.3L88.2 936.4L88.8 936.5L89.3 936.6L89.8 936.7L90.4 936.8L90.9 936.9L91.4 937.0L92.0 937.1L92.5 937.3L93.0 937.4L93.6 937.5L94.1 937.6L94.7 937.7L95.2 937.8L95.7 937.9L96.3 938.1L96.8 938.2L97.3 938.3L97.9 938.4L98.4 938.5L98.9 938.6L99.5 938.7L100.0 938.8L100.5 938.9L101.1 939.0L101.6 939.2L102.1 939.3L102.7 939.4L103.2 939.5L103.7 939.6L104.3 939.7L104.8 939.8L105.3 939.9L105.9 940.0L106.4 940.1L106.9 940.2L107.5 940.3L108.0 940.4L108.5 940.5L109.1 940.6L109.6 940.7L110.2 940.8L110.7 940.9L111.2 941.0L111.8 941.1L112.3 941.3L112.8 941.4L113.4 941.5L113.9 941.6L114.4 941.7L115.0 941.8L115.5 942.0L116.0 942.1L116.6 942.2L117.1 942.3L117.6 942.5L118.2 942.6L118.7 942.7L119.2 942.9L119.8 943.0L120.3 943.1L120.8 943.3L121.4 943.4L121.9 943.6L122.4 943.7L123.0 943.8L123.5 944.0L124.0 944.1L124.6 944.3L125.1 944.5L125.7 944.6L126.2 944.8L126.7 945.0L127.3 945.2L127.8 945.3L128.3 945.5L128.9 945.7L129.4 946.0L129.9 946.2L130.5 946.5L131.0 946.8L131.5 947.1L132.1 947.4L132.6 947.7L133.1 948.1L133.7 948.5L134.2 948.9L134.7 949.3L135.3 949.8L135.8 950.3L136.3 950.8L136.9 951.3L137.4 951.9L137.9 952.4L138.5 953.0L139.0 953.6L139.5 954.1L140.1 954.7L140.6 955.3L141.2 955.9L141.7 956.4L142.2 957.0L142.8 957.6L143.3 958.1L143.8 958.7L144.4 959.3L144.9 959.9L145.4 960.5L146.0 961.0L146.5 961.6L147.0 962.2L147.6 962.8L148.1 963.4L148.6 964.0L149.2 964.5L149.7 965.0L150.2 965.5L150.8 966.0L151.3 966.5L151.8 966.9L152.4 967.2L152.9 967.6L153.4 967.9L154.0 968.1L154.5 968.4L155.0 968.7L155.6 969.0L156.1 969.2L156.6 969.5L157.2 969.7L157.7 969.9L158.3 970.1L158.8 970.3L159.3 970.5L159.9 970.7L160.4 970.9L160.9 971.1L161.5 971.2L162.0 971.4L162.5 971.5L163.1 971.6L163.6 971.7L164.1 971.8L164.7 971.9L165.2 971.9L165.7 971.9L166.3 971.8L166.8 971.7L167.3 971.6L167.9 971.5L168.4 971.4L168.9 971.2L169.5 971.1L170.0 970.9L170.5 970.7L171.1 970.5L171.6 970.3L172.1 970.1L172.7 969.9L173.2 969.7L173.8 969.5L174.3 969.2L174.8 969.0L175.4 968.7L175.9 968.4L176.4 968.1L177.0 967.9L177.5 967.6L178.0 967.2L178.6 966.9L179.1 966.5L179.6 966.0L180.2 965.5L180.7 965.0L181.2 964.5L181.8 964.0L182.3 963.4L182.8 962.8L183.4 962.2L183.9 961.6L184.4 961.0L185.0 960.5L185.5 959.9L186.0 959.3L186.6 958.7L187.1 958.1L187.6 957.6L188.2 957.0L188.7 956.4L189.2 955.9L189.8 955.3L190.3 954.7L190.9 954.1L191.4 953.6L191.9 953.0L192.5 952.4L193.0 951.9L193.5 951.3L194.1 950.8L194.6 950.3L195.1 949.8L195.7 949.3L196.2 948.9L196.7 948.5L197.3 948.1L197.8 947.7L198.3 947.4L198.9 947.1L199.4 946.8L199.9 946.5L200.5 946.2L201.0 946.0L201.5 945.7L202.1 945.5L202.6 945.3L203.1 945.2L203.7 945.0L204.2 944.8L204.7 944.6L205.3 944.5L205.8 944.3L206.4 944.1L206.9 944.0L207.4 943.8L208.0 943.7L208.5 943.6L209.0 943.4L209.6 943.3L210.1 943.1L210.6 943.0L211.2 942.9L211.7 942.7L212.2 942.6L212.8 942.5L213.3 942.3L213.8 942.2L214.4 942.1L214.9 942.0L215.4 941.8L216.0 941.7L216.5 941.6L217.0 941.5L217.6 941.4L218.1 941.3L218.6 941.1L219.2 941.0L219.7 940.9L220.2 940.8L220.8 940.7L221.3 940.6L221.9 940.5L222.4 940.4L222.9 940.3L223.5 940.2L224.0 940.1L224.5 940.0L225.1 939.9L225.6 939.8L226.1 939.7L226.7 939.6L227.2 939.5L227.7 939.4L228.3 939.3L228.8 939.2L229.3 939.0L229.9 938.9L230.4 938.8L230.9 938.7L231.5 938.6L232.0 938.5L232.5 938.4L233.1 938.3L233.6 938.2L234.1 938.1L234.7 937.9L235.2 937.8L235.7 937.7L236.3 937.6L236.8 937.5L237.3 937.4L237.9 937.3L238.4 937.1L239.0 937.0L239.5 936.9L240.0 936.8L240.6 936.7L241.1 936.6L241.6 936.5L242.2 936.4L242.7 936.3L243.2 936.2L243.8 936.1L244.3 936.0L244.8 935.9L245.4 935.8L245.9 935.7L246.4 935.6L247.0 935.5L247.5 935.5L248.0 935.4L248.6 935.3L249.1 935.2L249.6 935.1L250.2 935.0L250.7 934.9L251.2 934.9L251.8 934.8L252.3 934.7L252.8 934.6L253.4 934.5L253.9 934.4L254.5 934.4L255.0 934.3L255.5 934.2L256.1 934.1L256.6 934.1L257.1 934.0L257.7 933.9L258.2 933.8L258.7 933.8L259.3 933.7L259.8 933.6L260.3 933.6L260.9 933.5L261.4 933.4" fill="none" stroke="#4b6699" stroke-width="2.1" stroke-dasharray="5.4 2.0" stroke-linejoin="round"/>
<line x1="65.10" y1="732.00" x2="65.10" y2="980.60" stroke="#70707a" stroke-width="1.6"/>
<line x1="65.10" y1="856.40" x2="265.30" y2="856.40" stroke="#333" stroke-width="1.1"/>
<path d="M69.00 855.00v2.20M117.10 855.00v2.20M165.20 855.00v2.20M213.30 855.00v2.20M261.40 855.00v2.20" stroke="#111" stroke-width="1.5"/>
<line x1="65.10" y1="980.10" x2="265.30" y2="980.10" stroke="#333" stroke-width="1.1"/>
<path d="M69.00 978.70v2.20M117.10 978.70v2.20M165.20 978.70v2.20M213.30 978.70v2.20M261.40 978.70v2.20" stroke="#111" stroke-width="1.5"/>
<path d="M65.10 739.22h2M65.10 767.89h2M65.10 796.56h2M65.10 825.23h2M65.10 881.10h2M65.10 909.47h2M65.10 937.83h2M65.10 966.20h2" stroke="#555" stroke-width="1"/>
<text x="43.60" y="743.72" font-size="13.10" font-family="'Liberation Sans', Arial, sans-serif" fill="#000" stroke="#000" stroke-width="0.32">4.0</text>
<text x="43.60" y="772.39" font-size="13.10" font-family="'Liberation Sans', Arial, sans-serif" fill="#000" stroke="#000" stroke-width="0.32">3.0</text>
<text x="43.60" y="801.06" font-size="13.10" font-family="'Liberation Sans', Arial, sans-serif" fill="#000" stroke="#000" stroke-width="0.32">2.0</text>
<text x="43.60" y="829.73" font-size="13.10" font-family="'Liberation Sans', Arial, sans-serif" fill="#000" stroke="#000" stroke-width="0.32">1.0</text>
<text x="25.58" y="885.60" font-size="13.10" font-family="'Liberation Sans', Arial, sans-serif" fill="#000" stroke="#000" stroke-width="0.32">46500</text>
<text x="25.58" y="913.97" font-size="13.10" font-family="'Liberation Sans', Arial, sans-serif" fill="#000" stroke="#000" stroke-width="0.32">46000</text>
<text x="25.58" y="942.33" font-size="13.10" font-family="'Liberation Sans', Arial, sans-serif" fill="#000" stroke="#000" stroke-width="0.32">45500</text>
<text x="25.58" y="970.70" font-size="13.10" font-family="'Liberation Sans', Arial, sans-serif" fill="#000" stroke="#000" stroke-width="0.32">45000</text>
<text x="65.36" y="995.70" font-size="13.10" font-family="'Liberation Sans', Arial, sans-serif" fill="#000" stroke="#000" stroke-width="0.32">0</text>
<text x="160.09" y="996.00" font-size="14.00" font-family="'Liberation Sans', Arial, sans-serif" fill="#000" font-style="italic" stroke="#000" stroke-width="0.10">π</text>
<text x="250.76" y="995.30" font-size="13.10" font-family="'Liberation Sans', Arial, sans-serif" fill="#000" stroke="#000" stroke-width="0.32">2</text>
<text x="260.09" y="996.00" font-size="14.00" font-family="'Liberation Sans', Arial, sans-serif" fill="#000" font-style="italic" stroke="#000" stroke-width="0.10">π</text>
<text x="113.62" y="990.80" font-size="9.00" font-family="'Liberation Sans', Arial, sans-serif" fill="#000" font-style="italic" stroke="#000" stroke-width="0.15">π</text>
<line x1="113.70" y1="991.80" x2="120.10" y2="991.80" stroke="#444" stroke-width="0.6"/>
<text x="114.40" y="1001.70" font-size="9.00" font-family="'Liberation Sans', Arial, sans-serif" fill="#000" stroke="#000" stroke-width="0.15">2</text>
<text x="206.21" y="990.80" font-size="9.00" font-family="'Liberation Sans', Arial, sans-serif" fill="#000" font-style="italic" stroke="#000" stroke-width="0.15">3 π</text>
<line x1="206.80" y1="991.80" x2="218.80" y2="991.80" stroke="#444" stroke-width="0.6"/>
<text x="210.30" y="1001.70" font-size="9.00" font-family="'Liberation Sans', Arial, sans-serif" fill="#000" stroke="#000" stroke-width="0.15">2</text>
<text x="161.77" y="1018.10" font-size="12.80" font-family="'Liberation Sans', Arial, sans-serif" fill="#000" font-style="italic" stroke="#000" stroke-width="0.32">θ</text>
<text x="141.89" y="775.80" font-size="13.00" font-family="'Liberation Sans', Arial, sans-serif" fill="#000" stroke="#000" stroke-width="0.32"><tspan font-style="italic">ρ</tspan>=0.015</text>
<text x="145.39" y="796.40" font-size="13.00" font-family="'Liberation Sans', Arial, sans-serif" fill="#000" stroke="#000" stroke-width="0.32">z=−0.2</text>
<text transform="translate(30.30 798.80) rotate(-90)" font-family="'Liberation Sans', Arial, sans-serif" font-size="12.5" font-weight="bold">f<tspan font-size="8.6" dy="-5.2" font-style="italic" font-weight="normal" stroke="#000" stroke-width="0.2">θ</tspan><tspan font-size="9.3" dx="-5.6" dy="8.6" font-weight="normal" stroke="#000" stroke-width="0.15">ij</tspan></text>
<text transform="translate(14.10 962.00) rotate(-90)" font-family="'Liberation Sans', Arial, sans-serif" font-size="13.2" stroke="#000" stroke-width="0.3">Energy (cm<tspan font-size="8.2" dy="-4.8">−1</tspan><tspan dy="4.8"> )</tspan></text>
<line x1="317.80" y1="782.70" x2="349.40" y2="782.70" stroke="#7f9bc4" stroke-width="1.7"/>
<line x1="317.60" y1="807.80" x2="346.30" y2="807.80" stroke="#4b6699" stroke-width="2.5" stroke-dasharray="7.9 2.5"/>
<text x="353.69" y="786.30" font-size="13.20" font-family="'Liberation Sans', Arial, sans-serif" fill="#000" font-weight="bold">H</text>
<text x="362.90" y="781.90" font-size="9.50" font-family="'Liberation Sans', Arial, sans-serif" fill="#000" stroke="#000" stroke-width="0.32">d,(2)</text>
<text x="385.17" y="786.30" font-size="13.20" font-family="'Liberation Sans', Arial, sans-serif" fill="#000" stroke="#000" stroke-width="0.32">,</text>
<text x="392.68" y="785.90" font-size="18.50" font-family="'DejaVu Sans', sans-serif" fill="#000" stroke="#000" stroke-width="0.10">∮</text>
<text x="403.63" y="786.30" font-size="13.20" font-family="'Liberation Sans', Arial, sans-serif" fill="#000" font-weight="bold" stroke="#000" stroke-width="0.20">f</text>
<text x="408.29" y="787.70" font-size="9.50" font-family="'Liberation Sans', Arial, sans-serif" fill="#000" stroke="#000" stroke-width="0.32">12</text>
<text x="420.73" y="786.30" font-size="13.20" font-family="'Liberation Sans', Arial, sans-serif" fill="#000" font-style="italic" stroke="#000" stroke-width="0.32">d</text>
<text x="431.70" y="786.30" font-size="13.20" font-family="'Liberation Sans', Arial, sans-serif" fill="#000" font-weight="bold">r</text>
<text x="439.65" y="786.30" font-size="13.20" font-family="'Liberation Sans', Arial, sans-serif" fill="#000" stroke="#000" stroke-width="0.32">=</text>
<text x="447.30" y="786.30" font-size="13.20" font-family="'Liberation Sans', Arial, sans-serif" fill="#000" stroke="#000" stroke-width="0.32">3.14159265</text>
<text x="353.69" y="812.70" font-size="13.20" font-family="'Liberation Sans', Arial, sans-serif" fill="#000" font-weight="bold">H</text>
<text x="362.90" y="808.30" font-size="9.50" font-family="'Liberation Sans', Arial, sans-serif" fill="#000" stroke="#000" stroke-width="0.32">d,(4)</text>
<text x="385.17" y="812.70" font-size="13.20" font-family="'Liberation Sans', Arial, sans-serif" fill="#000" stroke="#000" stroke-width="0.32">,</text>
<text x="392.68" y="812.30" font-size="18.50" font-family="'DejaVu Sans', sans-serif" fill="#000" stroke="#000" stroke-width="0.10">∮</text>
<text x="403.63" y="812.70" font-size="13.20" font-family="'Liberation Sans', Arial, sans-serif" fill="#000" font-weight="bold" stroke="#000" stroke-width="0.20">f</text>
<text x="408.39" y="814.10" font-size="9.50" font-family="'Liberation Sans', Arial, sans-serif" fill="#000" stroke="#000" stroke-width="0.32">23</text>
<text x="420.73" y="812.70" font-size="13.20" font-family="'Liberation Sans', Arial, sans-serif" fill="#000" font-style="italic" stroke="#000" stroke-width="0.32">d</text>
<text x="431.70" y="812.70" font-size="13.20" font-family="'Liberation Sans', Arial, sans-serif" fill="#000" font-weight="bold">r</text>
<text x="439.65" y="812.70" font-size="13.20" font-family="'Liberation Sans', Arial, sans-serif" fill="#000" stroke="#000" stroke-width="0.32">=</text>
<text x="447.30" y="812.70" font-size="13.20" font-family="'Liberation Sans', Arial, sans-serif" fill="#000" stroke="#000" stroke-width="0.32">3.14161708</text>
<line x1="316.50" y1="936.50" x2="348.10" y2="936.50" stroke="#7f9bc4" stroke-width="1.7"/>
<line x1="316.30" y1="959.60" x2="345.00" y2="959.60" stroke="#4b6699" stroke-width="2.5" stroke-dasharray="7.9 2.5"/>
<text x="352.84" y="939.70" font-size="13.20" font-family="'Liberation Sans', Arial, sans-serif" fill="#000" font-weight="bold">H</text>
<text x="362.10" y="935.50" font-size="9.50" font-family="'Liberation Sans', Arial, sans-serif" fill="#000" stroke="#000" stroke-width="0.32">d,(2)</text>
<text x="352.84" y="963.20" font-size="13.20" font-family="'Liberation Sans', Arial, sans-serif" fill="#000" font-weight="bold">H</text>
<text x="362.10" y="959.00" font-size="9.50" font-family="'Liberation Sans', Arial, sans-serif" fill="#000" stroke="#000" stroke-width="0.32">d,(4)</text>
</svg>
</body></html>
